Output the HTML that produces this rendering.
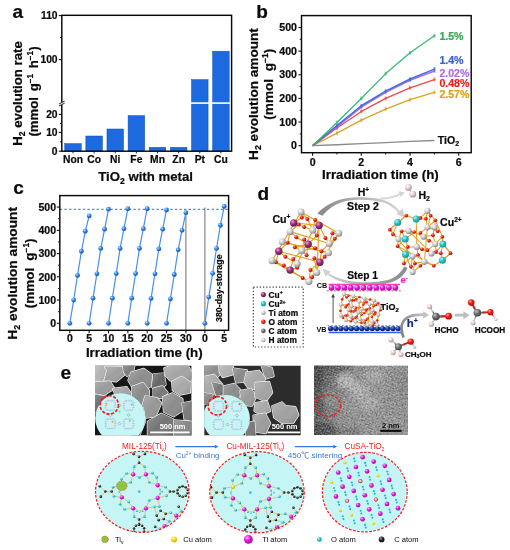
<!DOCTYPE html>
<html lang="en">
<head>
<meta charset="utf-8">
<title>Figure</title>
<style>
html,body{margin:0;padding:0;background:#fff;}
body{width:510px;height:550px;overflow:hidden;}
svg{display:block;font-family:"Liberation Sans", sans-serif;}
</style>
</head>
<body>
<svg width="510" height="550" viewBox="0 0 510 550">
<defs>
<radialGradient id="g_blue" cx="0.36" cy="0.32" r="0.75"><stop offset="0" stop-color="#bfe0ff"/><stop offset="0.45" stop-color="#2f7fe8"/><stop offset="1" stop-color="#0f4fb8"/></radialGradient>
<radialGradient id="g_cup" cx="0.36" cy="0.32" r="0.75"><stop offset="0" stop-color="#e9a6cf"/><stop offset="0.45" stop-color="#9c2f7c"/><stop offset="1" stop-color="#5c1448"/></radialGradient>
<radialGradient id="g_cu2" cx="0.36" cy="0.32" r="0.75"><stop offset="0" stop-color="#b8f6f6"/><stop offset="0.45" stop-color="#26c0c8"/><stop offset="1" stop-color="#0f8f9a"/></radialGradient>
<radialGradient id="g_ti" cx="0.36" cy="0.32" r="0.75"><stop offset="0" stop-color="#ffffff"/><stop offset="0.45" stop-color="#cecece"/><stop offset="1" stop-color="#7c7c7c"/></radialGradient>
<radialGradient id="g_o" cx="0.36" cy="0.32" r="0.75"><stop offset="0" stop-color="#ff9a8a"/><stop offset="0.45" stop-color="#ea1c14"/><stop offset="1" stop-color="#a80c08"/></radialGradient>
<radialGradient id="g_c" cx="0.36" cy="0.32" r="0.75"><stop offset="0" stop-color="#c4c4c4"/><stop offset="0.45" stop-color="#6e6e6e"/><stop offset="1" stop-color="#3a3a3a"/></radialGradient>
<radialGradient id="g_h" cx="0.36" cy="0.32" r="0.75"><stop offset="0" stop-color="#ffffff"/><stop offset="0.45" stop-color="#e6cfcf"/><stop offset="1" stop-color="#a38888"/></radialGradient>
<radialGradient id="g_mag" cx="0.36" cy="0.32" r="0.75"><stop offset="0" stop-color="#ffb0ff"/><stop offset="0.45" stop-color="#e418d8"/><stop offset="1" stop-color="#9a0a96"/></radialGradient>
<radialGradient id="g_navy" cx="0.36" cy="0.32" r="0.75"><stop offset="0" stop-color="#7f95e0"/><stop offset="0.45" stop-color="#16339c"/><stop offset="1" stop-color="#07185c"/></radialGradient>
<radialGradient id="g_yel" cx="0.36" cy="0.32" r="0.75"><stop offset="0" stop-color="#fff9a8"/><stop offset="0.45" stop-color="#f3de1e"/><stop offset="1" stop-color="#c4a80a"/></radialGradient>
<radialGradient id="g_cy" cx="0.36" cy="0.32" r="0.75"><stop offset="0" stop-color="#c8fbff"/><stop offset="0.45" stop-color="#1fc4dc"/><stop offset="1" stop-color="#0c93ac"/></radialGradient>
<radialGradient id="g_blk" cx="0.36" cy="0.32" r="0.75"><stop offset="0" stop-color="#9a9a9a"/><stop offset="0.45" stop-color="#2c2c2c"/><stop offset="1" stop-color="#0a0a0a"/></radialGradient>
<linearGradient id="sw2" x1="0" y1="0" x2="1" y2="0"><stop offset="0" stop-color="#858585"/><stop offset="0.5" stop-color="#b4b4b4"/><stop offset="1" stop-color="#d6d6d6"/></linearGradient>
<linearGradient id="sw1" x1="1" y1="0" x2="0" y2="0"><stop offset="0" stop-color="#8a8a8a"/><stop offset="0.5" stop-color="#a8a8a8"/><stop offset="1" stop-color="#cfcfcf"/></linearGradient>
<linearGradient id="sw3" x1="0" y1="1" x2="1" y2="0"><stop offset="0" stop-color="#7f7f7f"/><stop offset="0.6" stop-color="#9c9c9c"/><stop offset="1" stop-color="#c4c4c4"/></linearGradient>
<filter id="soft" x="-5%" y="-5%" width="110%" height="110%"><feGaussianBlur stdDeviation="0.75"/></filter>
<filter id="soft2" x="-5%" y="-5%" width="110%" height="110%"><feGaussianBlur stdDeviation="2.2"/></filter>
<filter id="grain" x="0" y="0" width="100%" height="100%"><feTurbulence type="fractalNoise" baseFrequency="0.9" numOctaves="2" seed="3" result="n"/><feColorMatrix in="n" type="matrix" values="0 0 0 0 0.5  0 0 0 0 0.5  0 0 0 0 0.5  0.9 0 0 0 -0.32"/></filter>
<linearGradient id="pg" x1="0" y1="0" x2="1" y2="1"><stop offset="0" stop-color="#fff" stop-opacity="0.22"/><stop offset="0.5" stop-color="#fff" stop-opacity="0"/><stop offset="1" stop-color="#000" stop-opacity="0.24"/></linearGradient>
<clipPath id="c1"><rect x="95" y="365.5" width="96.6" height="70"/></clipPath>
<clipPath id="c2"><rect x="204.2" y="365.5" width="96.6" height="70"/></clipPath>
<clipPath id="c3"><rect x="314" y="365.5" width="94" height="69.6"/></clipPath>
<linearGradient id="tg" x1="0" y1="0.1" x2="1" y2="0.3"><stop offset="0" stop-color="#3c3c3c"/><stop offset="0.16" stop-color="#5c5c5c"/><stop offset="0.4" stop-color="#868686"/><stop offset="0.7" stop-color="#8e8e8e"/><stop offset="1" stop-color="#888888"/></linearGradient>
<pattern id="fr" width="2.3" height="2.3" patternUnits="userSpaceOnUse" patternTransform="rotate(24)"><rect width="2.3" height="1.0" fill="#fff" opacity="0.12"/></pattern>
<pattern id="dots" width="2.5" height="2.2" patternUnits="userSpaceOnUse" patternTransform="rotate(28)"><circle cx="1.2" cy="1.0" r="0.6" fill="#fff" opacity="0.22"/></pattern>
<filter id="nzd" x="0" y="0" width="100%" height="100%"><feTurbulence type="fractalNoise" baseFrequency="0.5" numOctaves="2" seed="11"/><feColorMatrix type="matrix" values="0 0 0 0 0  0 0 0 0 0  0 0 0 0 0  2.6 0 0 0 -1.0"/></filter>
<filter id="nzl" x="0" y="0" width="100%" height="100%"><feTurbulence type="fractalNoise" baseFrequency="0.55" numOctaves="2" seed="23"/><feColorMatrix type="matrix" values="0 0 0 0 1  0 0 0 0 1  0 0 0 0 1  0 2.6 0 0 -1.0"/></filter>
<clipPath id="ce142"><ellipse cx="142.3" cy="491.8" rx="46.8" ry="40.5"/></clipPath>
<clipPath id="ce257"><ellipse cx="257" cy="492.2" rx="47.2" ry="40.6"/></clipPath>
</defs>
<rect width="510" height="550" fill="#ffffff"/>
<rect x="64.7" y="143.6" width="16.6" height="7.6" fill="#1c69e0" stroke="#1550b8" stroke-width="0.5"/>
<text x="73" y="162.9" font-size="10.3" font-weight="bold" text-anchor="middle" fill="#0a0a0a" stroke="#0a0a0a" stroke-width="0.22">Non</text>
<rect x="85.83" y="136" width="16.6" height="15.2" fill="#1c69e0" stroke="#1550b8" stroke-width="0.5"/>
<text x="94.13" y="162.9" font-size="10.3" font-weight="bold" text-anchor="middle" fill="#0a0a0a" stroke="#0a0a0a" stroke-width="0.22">Co</text>
<rect x="106.96" y="129" width="16.6" height="22.2" fill="#1c69e0" stroke="#1550b8" stroke-width="0.5"/>
<text x="115.26" y="162.9" font-size="10.3" font-weight="bold" text-anchor="middle" fill="#0a0a0a" stroke="#0a0a0a" stroke-width="0.22">Ni</text>
<rect x="128.09" y="115.6" width="16.6" height="35.6" fill="#1c69e0" stroke="#1550b8" stroke-width="0.5"/>
<text x="136.39" y="162.9" font-size="10.3" font-weight="bold" text-anchor="middle" fill="#0a0a0a" stroke="#0a0a0a" stroke-width="0.22">Fe</text>
<rect x="149.22" y="147.3" width="16.6" height="3.9" fill="#1c69e0" stroke="#1550b8" stroke-width="0.5"/>
<text x="157.52" y="162.9" font-size="10.3" font-weight="bold" text-anchor="middle" fill="#0a0a0a" stroke="#0a0a0a" stroke-width="0.22">Mn</text>
<rect x="170.35" y="147.3" width="16.6" height="3.9" fill="#1c69e0" stroke="#1550b8" stroke-width="0.5"/>
<text x="178.65" y="162.9" font-size="10.3" font-weight="bold" text-anchor="middle" fill="#0a0a0a" stroke="#0a0a0a" stroke-width="0.22">Zn</text>
<rect x="191.48" y="79.6" width="16.6" height="71.6" fill="#1c69e0" stroke="#1550b8" stroke-width="0.5"/>
<text x="199.78" y="162.9" font-size="10.3" font-weight="bold" text-anchor="middle" fill="#0a0a0a" stroke="#0a0a0a" stroke-width="0.22">Pt</text>
<rect x="212.61" y="51.2" width="16.6" height="100" fill="#1c69e0" stroke="#1550b8" stroke-width="0.5"/>
<text x="220.91" y="162.9" font-size="10.3" font-weight="bold" text-anchor="middle" fill="#0a0a0a" stroke="#0a0a0a" stroke-width="0.22">Cu</text>
<rect x="190" y="102.3" width="41" height="1.6" fill="#fff" stroke="none" stroke-width="1"/>
<rect x="61.8" y="15.3" width="169.8" height="135.9" fill="none" stroke="#0a0a0a" stroke-width="1.45"/>
<rect x="59.8" y="102.4" width="4" height="2.6" fill="#fff" stroke="none" stroke-width="1"/>
<line x1="59" y1="104" x2="64.6" y2="101.2" stroke="#111" stroke-width="0.9"/>
<line x1="59" y1="106" x2="64.6" y2="103.2" stroke="#111" stroke-width="0.9"/>
<line x1="58.8" y1="151.2" x2="61.8" y2="151.2" stroke="#111" stroke-width="1.1"/>
<text x="57.6" y="154.8" font-size="10.3" font-weight="bold" text-anchor="end" fill="#0a0a0a" stroke="#0a0a0a" stroke-width="0.22">0</text>
<line x1="58.8" y1="132.4" x2="61.8" y2="132.4" stroke="#111" stroke-width="1.1"/>
<text x="57.6" y="136" font-size="10.3" font-weight="bold" text-anchor="end" fill="#0a0a0a" stroke="#0a0a0a" stroke-width="0.22">10</text>
<line x1="58.8" y1="114.4" x2="61.8" y2="114.4" stroke="#111" stroke-width="1.1"/>
<text x="57.6" y="118" font-size="10.3" font-weight="bold" text-anchor="end" fill="#0a0a0a" stroke="#0a0a0a" stroke-width="0.22">20</text>
<line x1="58.8" y1="59.6" x2="61.8" y2="59.6" stroke="#111" stroke-width="1.1"/>
<text x="57.6" y="63.2" font-size="10.3" font-weight="bold" text-anchor="end" fill="#0a0a0a" stroke="#0a0a0a" stroke-width="0.22">100</text>
<line x1="58.8" y1="15.6" x2="61.8" y2="15.6" stroke="#111" stroke-width="1.1"/>
<text x="57.6" y="19.2" font-size="10.3" font-weight="bold" text-anchor="end" fill="#0a0a0a" stroke="#0a0a0a" stroke-width="0.22">110</text>
<line x1="60" y1="141.8" x2="61.8" y2="141.8" stroke="#111" stroke-width="0.9"/>
<line x1="60" y1="123.4" x2="61.8" y2="123.4" stroke="#111" stroke-width="0.9"/>
<line x1="60" y1="37.6" x2="61.8" y2="37.6" stroke="#111" stroke-width="0.9"/>
<line x1="73" y1="151.2" x2="73" y2="153.4" stroke="#111" stroke-width="0.9"/>
<line x1="94.13" y1="151.2" x2="94.13" y2="153.4" stroke="#111" stroke-width="0.9"/>
<line x1="115.26" y1="151.2" x2="115.26" y2="153.4" stroke="#111" stroke-width="0.9"/>
<line x1="136.39" y1="151.2" x2="136.39" y2="153.4" stroke="#111" stroke-width="0.9"/>
<line x1="157.52" y1="151.2" x2="157.52" y2="153.4" stroke="#111" stroke-width="0.9"/>
<line x1="178.65" y1="151.2" x2="178.65" y2="153.4" stroke="#111" stroke-width="0.9"/>
<line x1="199.78" y1="151.2" x2="199.78" y2="153.4" stroke="#111" stroke-width="0.9"/>
<line x1="220.91" y1="151.2" x2="220.91" y2="153.4" stroke="#111" stroke-width="0.9"/>
<text x="22.3" y="93.5" font-size="13.2" font-weight="bold" text-anchor="middle" fill="#0a0a0a" transform="rotate(-90 22.3 93.5)" stroke="#0a0a0a" stroke-width="0.22">H<tspan dy="0.34em" font-size="65%">2</tspan><tspan dy="-0.22em" font-size="100%">&#8203;</tspan> evolution rate</text>
<text x="38" y="91.5" font-size="13.2" font-weight="bold" text-anchor="middle" fill="#0a0a0a" transform="rotate(-90 38 91.5)" word-spacing="2" stroke="#0a0a0a" stroke-width="0.22">(mmol g<tspan dy="-0.61em" font-size="62%">−1</tspan><tspan dy="0.38em" font-size="100%">&#8203;</tspan> h<tspan dy="-0.61em" font-size="62%">−1</tspan><tspan dy="0.38em" font-size="100%">&#8203;</tspan>)</text>
<text x="145.6" y="180.6" font-size="13.2" font-weight="bold" text-anchor="middle" fill="#0a0a0a" stroke="#0a0a0a" stroke-width="0.22">TiO<tspan dy="0.34em" font-size="65%">2</tspan><tspan dy="-0.22em" font-size="100%">&#8203;</tspan> with metal</text>
<text x="12.6" y="17.8" font-size="19" font-weight="bold" text-anchor="start" fill="#0a0a0a" stroke="#0a0a0a" stroke-width="0.22">a</text>
<polyline fill="none" stroke="#8a8a8a" stroke-width="1.3" stroke-linejoin="round" points="312.6,145.7 336.96,144.75 361.32,143.57 385.68,142.63 410.04,141.44 434.4,140.5"/>
<polyline fill="none" stroke="#d8a420" stroke-width="1.3" stroke-linejoin="round" points="312.6,145.7 336.96,133.17 361.32,120.17 385.68,109.06 410.04,99.6 434.4,92.27"/>
<circle cx="336.96" cy="133.17" r="1.1" fill="#d8a420"/>
<path d="M336.96,131.67 v3 M335.96,131.67 h2 M335.96,134.67 h2" stroke="#d8a420" stroke-width="0.5" fill="none"/>
<circle cx="361.32" cy="120.17" r="1.1" fill="#d8a420"/>
<path d="M361.32,118.67 v3 M360.32,118.67 h2 M360.32,121.67 h2" stroke="#d8a420" stroke-width="0.5" fill="none"/>
<circle cx="385.68" cy="109.06" r="1.1" fill="#d8a420"/>
<path d="M385.68,107.56 v3 M384.68,107.56 h2 M384.68,110.56 h2" stroke="#d8a420" stroke-width="0.5" fill="none"/>
<circle cx="410.04" cy="99.6" r="1.1" fill="#d8a420"/>
<path d="M410.04,98.1 v3 M409.04,98.1 h2 M409.04,101.1 h2" stroke="#d8a420" stroke-width="0.5" fill="none"/>
<circle cx="434.4" cy="92.27" r="1.1" fill="#d8a420"/>
<path d="M434.4,90.77 v3 M433.4,90.77 h2 M433.4,93.77 h2" stroke="#d8a420" stroke-width="0.5" fill="none"/>
<polyline fill="none" stroke="#f04a4a" stroke-width="1.3" stroke-linejoin="round" points="312.6,145.7 336.96,127.97 361.32,111.42 385.68,98.42 410.04,87.78 434.4,79.51"/>
<circle cx="336.96" cy="127.97" r="1.1" fill="#f04a4a"/>
<path d="M336.96,126.47 v3 M335.96,126.47 h2 M335.96,129.47 h2" stroke="#f04a4a" stroke-width="0.5" fill="none"/>
<circle cx="361.32" cy="111.42" r="1.1" fill="#f04a4a"/>
<path d="M361.32,109.92 v3 M360.32,109.92 h2 M360.32,112.92 h2" stroke="#f04a4a" stroke-width="0.5" fill="none"/>
<circle cx="385.68" cy="98.42" r="1.1" fill="#f04a4a"/>
<path d="M385.68,96.92 v3 M384.68,96.92 h2 M384.68,99.92 h2" stroke="#f04a4a" stroke-width="0.5" fill="none"/>
<circle cx="410.04" cy="87.78" r="1.1" fill="#f04a4a"/>
<path d="M410.04,86.28 v3 M409.04,86.28 h2 M409.04,89.28 h2" stroke="#f04a4a" stroke-width="0.5" fill="none"/>
<circle cx="434.4" cy="79.51" r="1.1" fill="#f04a4a"/>
<path d="M434.4,78.01 v3 M433.4,78.01 h2 M433.4,81.01 h2" stroke="#f04a4a" stroke-width="0.5" fill="none"/>
<polyline fill="none" stroke="#b070e0" stroke-width="1.5" stroke-linejoin="round" points="312.6,145.7 336.96,126.79 361.32,107.17 385.68,92.27 410.04,80.22 434.4,71"/>
<circle cx="336.96" cy="126.79" r="1.1" fill="#b070e0"/>
<path d="M336.96,125.29 v3 M335.96,125.29 h2 M335.96,128.29 h2" stroke="#b070e0" stroke-width="0.5" fill="none"/>
<circle cx="361.32" cy="107.17" r="1.1" fill="#b070e0"/>
<path d="M361.32,105.67 v3 M360.32,105.67 h2 M360.32,108.67 h2" stroke="#b070e0" stroke-width="0.5" fill="none"/>
<circle cx="385.68" cy="92.27" r="1.1" fill="#b070e0"/>
<path d="M385.68,90.77 v3 M384.68,90.77 h2 M384.68,93.77 h2" stroke="#b070e0" stroke-width="0.5" fill="none"/>
<circle cx="410.04" cy="80.22" r="1.1" fill="#b070e0"/>
<path d="M410.04,78.72 v3 M409.04,78.72 h2 M409.04,81.72 h2" stroke="#b070e0" stroke-width="0.5" fill="none"/>
<circle cx="434.4" cy="71" r="1.1" fill="#b070e0"/>
<path d="M434.4,69.5 v3 M433.4,69.5 h2 M433.4,72.5 h2" stroke="#b070e0" stroke-width="0.5" fill="none"/>
<polyline fill="none" stroke="#3f6fe0" stroke-width="1.5" stroke-linejoin="round" points="312.6,145.7 336.96,125.61 361.32,105.75 385.68,91.09 410.04,79.04 434.4,69.11"/>
<circle cx="336.96" cy="125.61" r="1.1" fill="#3f6fe0"/>
<path d="M336.96,124.11 v3 M335.96,124.11 h2 M335.96,127.11 h2" stroke="#3f6fe0" stroke-width="0.5" fill="none"/>
<circle cx="361.32" cy="105.75" r="1.1" fill="#3f6fe0"/>
<path d="M361.32,104.25 v3 M360.32,104.25 h2 M360.32,107.25 h2" stroke="#3f6fe0" stroke-width="0.5" fill="none"/>
<circle cx="385.68" cy="91.09" r="1.1" fill="#3f6fe0"/>
<path d="M385.68,89.59 v3 M384.68,89.59 h2 M384.68,92.59 h2" stroke="#3f6fe0" stroke-width="0.5" fill="none"/>
<circle cx="410.04" cy="79.04" r="1.1" fill="#3f6fe0"/>
<path d="M410.04,77.54 v3 M409.04,77.54 h2 M409.04,80.54 h2" stroke="#3f6fe0" stroke-width="0.5" fill="none"/>
<circle cx="434.4" cy="69.11" r="1.1" fill="#3f6fe0"/>
<path d="M434.4,67.61 v3 M433.4,67.61 h2 M433.4,70.61 h2" stroke="#3f6fe0" stroke-width="0.5" fill="none"/>
<polyline fill="none" stroke="#3cb878" stroke-width="1.3" stroke-linejoin="round" points="312.6,145.7 336.96,122.53 361.32,98.42 385.68,73.6 410.04,52.79 434.4,35.77"/>
<circle cx="336.96" cy="122.53" r="1.1" fill="#3cb878"/>
<path d="M336.96,121.03 v3 M335.96,121.03 h2 M335.96,124.03 h2" stroke="#3cb878" stroke-width="0.5" fill="none"/>
<circle cx="361.32" cy="98.42" r="1.1" fill="#3cb878"/>
<path d="M361.32,96.92 v3 M360.32,96.92 h2 M360.32,99.92 h2" stroke="#3cb878" stroke-width="0.5" fill="none"/>
<circle cx="385.68" cy="73.6" r="1.1" fill="#3cb878"/>
<path d="M385.68,72.1 v3 M384.68,72.1 h2 M384.68,75.1 h2" stroke="#3cb878" stroke-width="0.5" fill="none"/>
<circle cx="410.04" cy="52.79" r="1.1" fill="#3cb878"/>
<path d="M410.04,51.29 v3 M409.04,51.29 h2 M409.04,54.29 h2" stroke="#3cb878" stroke-width="0.5" fill="none"/>
<circle cx="434.4" cy="35.77" r="1.1" fill="#3cb878"/>
<path d="M434.4,34.27 v3 M433.4,34.27 h2 M433.4,37.27 h2" stroke="#3cb878" stroke-width="0.5" fill="none"/>
<rect x="301.5" y="15.6" width="169.7" height="137.1" fill="none" stroke="#0a0a0a" stroke-width="1.45"/>
<line x1="298.5" y1="145.7" x2="301.5" y2="145.7" stroke="#111" stroke-width="1.1"/>
<text x="297" y="149.4" font-size="10.6" font-weight="bold" text-anchor="end" fill="#0a0a0a" stroke="#0a0a0a" stroke-width="0.22">0</text>
<line x1="298.5" y1="122.06" x2="301.5" y2="122.06" stroke="#111" stroke-width="1.1"/>
<text x="297" y="125.76" font-size="10.6" font-weight="bold" text-anchor="end" fill="#0a0a0a" stroke="#0a0a0a" stroke-width="0.22">100</text>
<line x1="298.5" y1="98.42" x2="301.5" y2="98.42" stroke="#111" stroke-width="1.1"/>
<text x="297" y="102.12" font-size="10.6" font-weight="bold" text-anchor="end" fill="#0a0a0a" stroke="#0a0a0a" stroke-width="0.22">200</text>
<line x1="298.5" y1="74.78" x2="301.5" y2="74.78" stroke="#111" stroke-width="1.1"/>
<text x="297" y="78.48" font-size="10.6" font-weight="bold" text-anchor="end" fill="#0a0a0a" stroke="#0a0a0a" stroke-width="0.22">300</text>
<line x1="298.5" y1="51.14" x2="301.5" y2="51.14" stroke="#111" stroke-width="1.1"/>
<text x="297" y="54.84" font-size="10.6" font-weight="bold" text-anchor="end" fill="#0a0a0a" stroke="#0a0a0a" stroke-width="0.22">400</text>
<line x1="298.5" y1="27.5" x2="301.5" y2="27.5" stroke="#111" stroke-width="1.1"/>
<text x="297" y="31.2" font-size="10.6" font-weight="bold" text-anchor="end" fill="#0a0a0a" stroke="#0a0a0a" stroke-width="0.22">500</text>
<line x1="299.7" y1="133.88" x2="301.5" y2="133.88" stroke="#111" stroke-width="0.9"/>
<line x1="299.7" y1="110.24" x2="301.5" y2="110.24" stroke="#111" stroke-width="0.9"/>
<line x1="299.7" y1="86.6" x2="301.5" y2="86.6" stroke="#111" stroke-width="0.9"/>
<line x1="299.7" y1="62.96" x2="301.5" y2="62.96" stroke="#111" stroke-width="0.9"/>
<line x1="299.7" y1="39.32" x2="301.5" y2="39.32" stroke="#111" stroke-width="0.9"/>
<line x1="312.6" y1="152.7" x2="312.6" y2="155.7" stroke="#111" stroke-width="1.1"/>
<text x="312.6" y="166.3" font-size="10.6" font-weight="bold" text-anchor="middle" fill="#0a0a0a" stroke="#0a0a0a" stroke-width="0.22">0</text>
<line x1="361.32" y1="152.7" x2="361.32" y2="155.7" stroke="#111" stroke-width="1.1"/>
<text x="361.32" y="166.3" font-size="10.6" font-weight="bold" text-anchor="middle" fill="#0a0a0a" stroke="#0a0a0a" stroke-width="0.22">2</text>
<line x1="410.04" y1="152.7" x2="410.04" y2="155.7" stroke="#111" stroke-width="1.1"/>
<text x="410.04" y="166.3" font-size="10.6" font-weight="bold" text-anchor="middle" fill="#0a0a0a" stroke="#0a0a0a" stroke-width="0.22">4</text>
<line x1="458.76" y1="152.7" x2="458.76" y2="155.7" stroke="#111" stroke-width="1.1"/>
<text x="458.76" y="166.3" font-size="10.6" font-weight="bold" text-anchor="middle" fill="#0a0a0a" stroke="#0a0a0a" stroke-width="0.22">6</text>
<line x1="336.96" y1="152.7" x2="336.96" y2="154.5" stroke="#111" stroke-width="0.9"/>
<line x1="385.68" y1="152.7" x2="385.68" y2="154.5" stroke="#111" stroke-width="0.9"/>
<line x1="434.4" y1="152.7" x2="434.4" y2="154.5" stroke="#111" stroke-width="0.9"/>
<text x="439.4" y="39.8" font-size="10.6" font-weight="bold" text-anchor="start" fill="#35a853" stroke="#35a853" stroke-width="0.22">1.5%</text>
<text x="439.4" y="64.3" font-size="10.6" font-weight="bold" text-anchor="start" fill="#3a62d0" stroke="#3a62d0" stroke-width="0.22">1.4%</text>
<text x="439.4" y="76.8" font-size="10.6" font-weight="bold" text-anchor="start" fill="#b26ee0" stroke="#b26ee0" stroke-width="0.22">2.02%</text>
<text x="439.4" y="86.9" font-size="10.6" font-weight="bold" text-anchor="start" fill="#ee2222" stroke="#ee2222" stroke-width="0.22">0.48%</text>
<text x="439.4" y="98.4" font-size="10.6" font-weight="bold" text-anchor="start" fill="#dba21c" stroke="#dba21c" stroke-width="0.22">2.57%</text>
<text x="437.8" y="143.8" font-size="10.6" font-weight="bold" text-anchor="start" fill="#0a0a0a" stroke="#0a0a0a" stroke-width="0.22">TiO<tspan dy="0.34em" font-size="65%">2</tspan><tspan dy="-0.22em" font-size="100%">&#8203;</tspan></text>
<text x="257.8" y="94" font-size="13.6" font-weight="bold" text-anchor="middle" fill="#0a0a0a" transform="rotate(-90 257.8 94)" stroke="#0a0a0a" stroke-width="0.22">H<tspan dy="0.34em" font-size="65%">2</tspan><tspan dy="-0.22em" font-size="100%">&#8203;</tspan> evolution amount</text>
<text x="273.2" y="84.2" font-size="13.6" font-weight="bold" text-anchor="middle" fill="#0a0a0a" transform="rotate(-90 273.2 84.2)" word-spacing="4" stroke="#0a0a0a" stroke-width="0.22">(mmol g<tspan dy="-0.61em" font-size="62%">−1</tspan><tspan dy="0.38em" font-size="100%">&#8203;</tspan>)</text>
<text x="380.4" y="179.3" font-size="13.3" font-weight="bold" text-anchor="middle" fill="#0a0a0a" stroke="#0a0a0a" stroke-width="0.22">Irradiation time (h)</text>
<text x="256.3" y="17.8" font-size="19" font-weight="bold" text-anchor="start" fill="#0a0a0a" stroke="#0a0a0a" stroke-width="0.22">b</text>
<line x1="59.8" y1="209.42" x2="228.6" y2="209.42" stroke="#4a90e8" stroke-width="1.1" stroke-dasharray="2.4 2.2"/>
<line x1="185.9" y1="212" x2="185.9" y2="330.3" stroke="#555" stroke-width="0.85"/>
<line x1="204.9" y1="207.5" x2="204.9" y2="330.3" stroke="#555" stroke-width="0.85"/>
<polyline fill="none" stroke="#4a90e8" stroke-width="1.2" points="69.8,323.3 73.67,300.06 77.54,275.43 81.41,251.26 85.28,231.27 89.15,215.93"/>
<polyline fill="none" stroke="#4a90e8" stroke-width="1.2" points="89.15,323.3 93.02,298.2 96.89,273.8 100.76,248.47 104.63,229.18 108.5,209.19"/>
<polyline fill="none" stroke="#4a90e8" stroke-width="1.2" points="108.5,323.3 112.37,298.2 116.24,273.57 120.11,248.47 123.98,228.71 127.85,208.73"/>
<polyline fill="none" stroke="#4a90e8" stroke-width="1.2" points="127.85,323.3 131.72,298.2 135.59,273.57 139.46,248.47 143.33,228.71 147.2,208.73"/>
<polyline fill="none" stroke="#4a90e8" stroke-width="1.2" points="147.2,323.3 151.07,298.43 154.94,273.8 158.81,248.93 162.68,229.18 166.55,209.89"/>
<polyline fill="none" stroke="#4a90e8" stroke-width="1.2" points="166.55,323.3 170.42,298.9 174.29,274.5 178.16,249.86 182.03,230.34 185.9,212.68"/>
<polyline fill="none" stroke="#4a90e8" stroke-width="1.2" points="204.9,323.3 208.77,297.04 212.64,273.33 216.51,248.47 220.38,225.23 224.25,206.4"/>
<circle cx="69.8" cy="323.3" r="2.4" fill="url(#g_blue)"/>
<circle cx="73.67" cy="300.06" r="2.4" fill="url(#g_blue)"/>
<circle cx="77.54" cy="275.43" r="2.4" fill="url(#g_blue)"/>
<circle cx="81.41" cy="251.26" r="2.4" fill="url(#g_blue)"/>
<circle cx="85.28" cy="231.27" r="2.4" fill="url(#g_blue)"/>
<circle cx="89.15" cy="215.93" r="2.4" fill="url(#g_blue)"/>
<circle cx="89.15" cy="323.3" r="2.4" fill="url(#g_blue)"/>
<circle cx="93.02" cy="298.2" r="2.4" fill="url(#g_blue)"/>
<circle cx="96.89" cy="273.8" r="2.4" fill="url(#g_blue)"/>
<circle cx="100.76" cy="248.47" r="2.4" fill="url(#g_blue)"/>
<circle cx="104.63" cy="229.18" r="2.4" fill="url(#g_blue)"/>
<circle cx="108.5" cy="209.19" r="2.4" fill="url(#g_blue)"/>
<circle cx="108.5" cy="323.3" r="2.4" fill="url(#g_blue)"/>
<circle cx="112.37" cy="298.2" r="2.4" fill="url(#g_blue)"/>
<circle cx="116.24" cy="273.57" r="2.4" fill="url(#g_blue)"/>
<circle cx="120.11" cy="248.47" r="2.4" fill="url(#g_blue)"/>
<circle cx="123.98" cy="228.71" r="2.4" fill="url(#g_blue)"/>
<circle cx="127.85" cy="208.73" r="2.4" fill="url(#g_blue)"/>
<circle cx="127.85" cy="323.3" r="2.4" fill="url(#g_blue)"/>
<circle cx="131.72" cy="298.2" r="2.4" fill="url(#g_blue)"/>
<circle cx="135.59" cy="273.57" r="2.4" fill="url(#g_blue)"/>
<circle cx="139.46" cy="248.47" r="2.4" fill="url(#g_blue)"/>
<circle cx="143.33" cy="228.71" r="2.4" fill="url(#g_blue)"/>
<circle cx="147.2" cy="208.73" r="2.4" fill="url(#g_blue)"/>
<circle cx="147.2" cy="323.3" r="2.4" fill="url(#g_blue)"/>
<circle cx="151.07" cy="298.43" r="2.4" fill="url(#g_blue)"/>
<circle cx="154.94" cy="273.8" r="2.4" fill="url(#g_blue)"/>
<circle cx="158.81" cy="248.93" r="2.4" fill="url(#g_blue)"/>
<circle cx="162.68" cy="229.18" r="2.4" fill="url(#g_blue)"/>
<circle cx="166.55" cy="209.89" r="2.4" fill="url(#g_blue)"/>
<circle cx="166.55" cy="323.3" r="2.4" fill="url(#g_blue)"/>
<circle cx="170.42" cy="298.9" r="2.4" fill="url(#g_blue)"/>
<circle cx="174.29" cy="274.5" r="2.4" fill="url(#g_blue)"/>
<circle cx="178.16" cy="249.86" r="2.4" fill="url(#g_blue)"/>
<circle cx="182.03" cy="230.34" r="2.4" fill="url(#g_blue)"/>
<circle cx="185.9" cy="212.68" r="2.4" fill="url(#g_blue)"/>
<circle cx="204.9" cy="323.3" r="2.4" fill="url(#g_blue)"/>
<circle cx="208.77" cy="297.04" r="2.4" fill="url(#g_blue)"/>
<circle cx="212.64" cy="273.33" r="2.4" fill="url(#g_blue)"/>
<circle cx="216.51" cy="248.47" r="2.4" fill="url(#g_blue)"/>
<circle cx="220.38" cy="225.23" r="2.4" fill="url(#g_blue)"/>
<circle cx="224.25" cy="206.4" r="2.4" fill="url(#g_blue)"/>
<rect x="59.8" y="195.6" width="168.8" height="134.7" fill="none" stroke="#0a0a0a" stroke-width="1.45"/>
<line x1="56.8" y1="323.3" x2="59.8" y2="323.3" stroke="#111" stroke-width="1.1"/>
<text x="56" y="327.1" font-size="10.5" font-weight="bold" text-anchor="end" fill="#0a0a0a" stroke="#0a0a0a" stroke-width="0.22">0</text>
<line x1="56.8" y1="300.06" x2="59.8" y2="300.06" stroke="#111" stroke-width="1.1"/>
<text x="56" y="303.86" font-size="10.5" font-weight="bold" text-anchor="end" fill="#0a0a0a" stroke="#0a0a0a" stroke-width="0.22">100</text>
<line x1="56.8" y1="276.82" x2="59.8" y2="276.82" stroke="#111" stroke-width="1.1"/>
<text x="56" y="280.62" font-size="10.5" font-weight="bold" text-anchor="end" fill="#0a0a0a" stroke="#0a0a0a" stroke-width="0.22">200</text>
<line x1="56.8" y1="253.58" x2="59.8" y2="253.58" stroke="#111" stroke-width="1.1"/>
<text x="56" y="257.38" font-size="10.5" font-weight="bold" text-anchor="end" fill="#0a0a0a" stroke="#0a0a0a" stroke-width="0.22">300</text>
<line x1="56.8" y1="230.34" x2="59.8" y2="230.34" stroke="#111" stroke-width="1.1"/>
<text x="56" y="234.14" font-size="10.5" font-weight="bold" text-anchor="end" fill="#0a0a0a" stroke="#0a0a0a" stroke-width="0.22">400</text>
<line x1="56.8" y1="207.1" x2="59.8" y2="207.1" stroke="#111" stroke-width="1.1"/>
<text x="56" y="210.9" font-size="10.5" font-weight="bold" text-anchor="end" fill="#0a0a0a" stroke="#0a0a0a" stroke-width="0.22">500</text>
<line x1="58" y1="311.68" x2="59.8" y2="311.68" stroke="#111" stroke-width="0.9"/>
<line x1="58" y1="288.44" x2="59.8" y2="288.44" stroke="#111" stroke-width="0.9"/>
<line x1="58" y1="265.2" x2="59.8" y2="265.2" stroke="#111" stroke-width="0.9"/>
<line x1="58" y1="241.96" x2="59.8" y2="241.96" stroke="#111" stroke-width="0.9"/>
<line x1="58" y1="218.72" x2="59.8" y2="218.72" stroke="#111" stroke-width="0.9"/>
<line x1="69.8" y1="330.3" x2="69.8" y2="333.3" stroke="#111" stroke-width="1.1"/>
<text x="69.8" y="342.2" font-size="10.5" font-weight="bold" text-anchor="middle" fill="#0a0a0a" stroke="#0a0a0a" stroke-width="0.22">0</text>
<line x1="89.15" y1="330.3" x2="89.15" y2="333.3" stroke="#111" stroke-width="1.1"/>
<text x="89.15" y="342.2" font-size="10.5" font-weight="bold" text-anchor="middle" fill="#0a0a0a" stroke="#0a0a0a" stroke-width="0.22">5</text>
<line x1="108.5" y1="330.3" x2="108.5" y2="333.3" stroke="#111" stroke-width="1.1"/>
<text x="108.5" y="342.2" font-size="10.5" font-weight="bold" text-anchor="middle" fill="#0a0a0a" stroke="#0a0a0a" stroke-width="0.22">10</text>
<line x1="127.85" y1="330.3" x2="127.85" y2="333.3" stroke="#111" stroke-width="1.1"/>
<text x="127.85" y="342.2" font-size="10.5" font-weight="bold" text-anchor="middle" fill="#0a0a0a" stroke="#0a0a0a" stroke-width="0.22">15</text>
<line x1="147.2" y1="330.3" x2="147.2" y2="333.3" stroke="#111" stroke-width="1.1"/>
<text x="147.2" y="342.2" font-size="10.5" font-weight="bold" text-anchor="middle" fill="#0a0a0a" stroke="#0a0a0a" stroke-width="0.22">20</text>
<line x1="166.55" y1="330.3" x2="166.55" y2="333.3" stroke="#111" stroke-width="1.1"/>
<text x="166.55" y="342.2" font-size="10.5" font-weight="bold" text-anchor="middle" fill="#0a0a0a" stroke="#0a0a0a" stroke-width="0.22">25</text>
<line x1="185.9" y1="330.3" x2="185.9" y2="333.3" stroke="#111" stroke-width="1.1"/>
<text x="185.9" y="342.2" font-size="10.5" font-weight="bold" text-anchor="middle" fill="#0a0a0a" stroke="#0a0a0a" stroke-width="0.22">30</text>
<line x1="204.9" y1="330.3" x2="204.9" y2="333.3" stroke="#111" stroke-width="1.1"/>
<text x="204.9" y="342.2" font-size="10.5" font-weight="bold" text-anchor="middle" fill="#0a0a0a" stroke="#0a0a0a" stroke-width="0.22">0</text>
<line x1="224.25" y1="330.3" x2="224.25" y2="333.3" stroke="#111" stroke-width="1.1"/>
<text x="224.25" y="342.2" font-size="10.5" font-weight="bold" text-anchor="middle" fill="#0a0a0a" stroke="#0a0a0a" stroke-width="0.22">5</text>
<text x="222.2" y="288.2" font-size="8.8" font-weight="bold" text-anchor="middle" fill="#0a0a0a" transform="rotate(-90 222.2 288.2)" stroke="#0a0a0a" stroke-width="0.22">380-day-storage</text>
<text x="17.4" y="273.4" font-size="13.7" font-weight="bold" text-anchor="middle" fill="#0a0a0a" transform="rotate(-90 17.4 273.4)" stroke="#0a0a0a" stroke-width="0.22">H<tspan dy="0.34em" font-size="65%">2</tspan><tspan dy="-0.22em" font-size="100%">&#8203;</tspan> evolution amount</text>
<text x="34" y="273.3" font-size="13.5" font-weight="bold" text-anchor="middle" fill="#0a0a0a" transform="rotate(-90 34 273.3)" word-spacing="3.2" stroke="#0a0a0a" stroke-width="0.22">(mmol g<tspan dy="-0.61em" font-size="62%">−1</tspan><tspan dy="0.38em" font-size="100%">&#8203;</tspan>)</text>
<text x="144.3" y="357" font-size="13.3" font-weight="bold" text-anchor="middle" fill="#0a0a0a" stroke="#0a0a0a" stroke-width="0.22">Irradiation time (h)</text>
<text x="13.2" y="194.4" font-size="19" font-weight="bold" text-anchor="start" fill="#0a0a0a" stroke="#0a0a0a" stroke-width="0.22">c</text>
<path d="M317.4,213.4 C324,206.6 333,201 345,198.6 C357,196.6 372,196.8 384,200.2 C391.6,202.6 397.4,207.4 401.4,212.8 L399.6,214.2 C395.4,209.2 390,205.0 383.4,202.6 C372,199.2 358,198.9 346.2,201.0 C336.0,203.4 328.6,208.6 322.4,215.8 Z" fill="url(#sw2)"/>
<path d="M396.6,214.0 L404.4,217.4 L402.8,208.8 Z" fill="#cdcdcd"/>
<path d="M380,199.6 C388,200.0 395,198.0 400.4,195.0 L399.6,193.2 C394.6,195.8 388,197.6 380,197.4 Z" fill="#d9d9d9"/>
<path d="M398.6,191.2 L404.6,192.2 L400.8,197.2 Z" fill="#d4d4d4"/>
<path d="M407.6,268.0 C404.4,274.8 399.6,279.6 391.6,282.2 C382,284.8 372,285.2 362,285.0 C349,284.6 336.6,281.6 327.6,274.6 L328.8,273.2 C337.6,279.0 349.6,281.8 362,282.2 C372,282.4 381,281.8 389.6,279.4 C396.6,277.0 401.0,272.6 404.2,266.6 Z" fill="url(#sw1)"/>
<path d="M322.6,268.4 L330.8,271.4 L325.6,276.8 Z" fill="#d2d2d2"/>
<line x1="301.08" y1="212.06" x2="338.73" y2="233.24" stroke="#e4a11c" stroke-width="1.15" stroke-linecap="round"/>
<line x1="301.08" y1="212.06" x2="272.06" y2="260.69" stroke="#e4a11c" stroke-width="1.15" stroke-linecap="round"/>
<line x1="272.06" y1="260.69" x2="308.92" y2="281.55" stroke="#e4a11c" stroke-width="1.15" stroke-linecap="round"/>
<line x1="338.73" y1="233.24" x2="308.92" y2="281.55" stroke="#e4a11c" stroke-width="1.15" stroke-linecap="round"/>
<line x1="290.1" y1="231.67" x2="329.31" y2="243.43" stroke="#e4a11c" stroke-width="1.15" stroke-linecap="round"/>
<line x1="282.25" y1="241.86" x2="328.53" y2="252.84" stroke="#e4a11c" stroke-width="1.15" stroke-linecap="round"/>
<line x1="293.71" y1="223.04" x2="319.12" y2="225.39" stroke="#e4a11c" stroke-width="1.15" stroke-linecap="round"/>
<line x1="278.8" y1="251.27" x2="319.9" y2="262.25" stroke="#e4a11c" stroke-width="1.15" stroke-linecap="round"/>
<line x1="312.84" y1="230.1" x2="297.16" y2="263.82" stroke="#e4a11c" stroke-width="1.15" stroke-linecap="round"/>
<line x1="319.12" y1="225.39" x2="316.76" y2="272.45" stroke="#e4a11c" stroke-width="1.15" stroke-linecap="round"/>
<line x1="307.35" y1="219.12" x2="301.08" y2="212.06" stroke="#e4a11c" stroke-width="1.15" stroke-linecap="round"/>
<line x1="307.35" y1="219.12" x2="312.84" y2="230.1" stroke="#e4a11c" stroke-width="1.15" stroke-linecap="round"/>
<line x1="315.2" y1="219.9" x2="319.12" y2="225.39" stroke="#e4a11c" stroke-width="1.15" stroke-linecap="round"/>
<line x1="315.2" y1="219.9" x2="312.84" y2="230.1" stroke="#e4a11c" stroke-width="1.15" stroke-linecap="round"/>
<line x1="298.73" y1="224.61" x2="293.71" y2="223.04" stroke="#e4a11c" stroke-width="1.15" stroke-linecap="round"/>
<line x1="298.73" y1="224.61" x2="290.1" y2="231.67" stroke="#e4a11c" stroke-width="1.15" stroke-linecap="round"/>
<line x1="304.22" y1="226.96" x2="312.84" y2="230.1" stroke="#e4a11c" stroke-width="1.15" stroke-linecap="round"/>
<line x1="304.22" y1="226.96" x2="293.71" y2="223.04" stroke="#e4a11c" stroke-width="1.15" stroke-linecap="round"/>
<line x1="332.45" y1="233.24" x2="338.73" y2="233.24" stroke="#e4a11c" stroke-width="1.15" stroke-linecap="round"/>
<line x1="332.45" y1="233.24" x2="329.31" y2="243.43" stroke="#e4a11c" stroke-width="1.15" stroke-linecap="round"/>
<line x1="325.39" y1="237.94" x2="329.31" y2="243.43" stroke="#e4a11c" stroke-width="1.15" stroke-linecap="round"/>
<line x1="325.39" y1="237.94" x2="319.12" y2="225.39" stroke="#e4a11c" stroke-width="1.15" stroke-linecap="round"/>
<line x1="316.76" y1="235.59" x2="312.84" y2="230.1" stroke="#e4a11c" stroke-width="1.15" stroke-linecap="round"/>
<line x1="316.76" y1="235.59" x2="319.12" y2="225.39" stroke="#e4a11c" stroke-width="1.15" stroke-linecap="round"/>
<line x1="316.76" y1="235.59" x2="308.14" y2="244.22" stroke="#e4a11c" stroke-width="1.15" stroke-linecap="round"/>
<line x1="296.37" y1="237.16" x2="290.1" y2="231.67" stroke="#e4a11c" stroke-width="1.15" stroke-linecap="round"/>
<line x1="296.37" y1="237.16" x2="308.14" y2="244.22" stroke="#e4a11c" stroke-width="1.15" stroke-linecap="round"/>
<line x1="304.22" y1="239.51" x2="308.14" y2="244.22" stroke="#e4a11c" stroke-width="1.15" stroke-linecap="round"/>
<line x1="304.22" y1="239.51" x2="301.86" y2="250.49" stroke="#e4a11c" stroke-width="1.15" stroke-linecap="round"/>
<line x1="287.75" y1="242.65" x2="282.25" y2="241.86" stroke="#e4a11c" stroke-width="1.15" stroke-linecap="round"/>
<line x1="287.75" y1="242.65" x2="290.1" y2="231.67" stroke="#e4a11c" stroke-width="1.15" stroke-linecap="round"/>
<line x1="287.75" y1="242.65" x2="278.8" y2="251.27" stroke="#e4a11c" stroke-width="1.15" stroke-linecap="round"/>
<line x1="294.8" y1="247.35" x2="301.86" y2="250.49" stroke="#e4a11c" stroke-width="1.15" stroke-linecap="round"/>
<line x1="294.8" y1="247.35" x2="308.14" y2="244.22" stroke="#e4a11c" stroke-width="1.15" stroke-linecap="round"/>
<line x1="315.2" y1="248.14" x2="308.14" y2="244.22" stroke="#e4a11c" stroke-width="1.15" stroke-linecap="round"/>
<line x1="315.2" y1="248.14" x2="301.86" y2="250.49" stroke="#e4a11c" stroke-width="1.15" stroke-linecap="round"/>
<line x1="321.47" y1="251.27" x2="328.53" y2="252.84" stroke="#e4a11c" stroke-width="1.15" stroke-linecap="round"/>
<line x1="321.47" y1="251.27" x2="329.31" y2="243.43" stroke="#e4a11c" stroke-width="1.15" stroke-linecap="round"/>
<line x1="321.47" y1="251.27" x2="319.9" y2="262.25" stroke="#e4a11c" stroke-width="1.15" stroke-linecap="round"/>
<line x1="285.39" y1="256.76" x2="278.8" y2="251.27" stroke="#e4a11c" stroke-width="1.15" stroke-linecap="round"/>
<line x1="285.39" y1="256.76" x2="297.16" y2="263.82" stroke="#e4a11c" stroke-width="1.15" stroke-linecap="round"/>
<line x1="293.24" y1="259.12" x2="297.16" y2="263.82" stroke="#e4a11c" stroke-width="1.15" stroke-linecap="round"/>
<line x1="293.24" y1="259.12" x2="290.1" y2="270.1" stroke="#e4a11c" stroke-width="1.15" stroke-linecap="round"/>
<line x1="293.24" y1="259.12" x2="301.86" y2="250.49" stroke="#e4a11c" stroke-width="1.15" stroke-linecap="round"/>
<line x1="306.57" y1="255.2" x2="301.86" y2="250.49" stroke="#e4a11c" stroke-width="1.15" stroke-linecap="round"/>
<line x1="306.57" y1="255.2" x2="308.14" y2="244.22" stroke="#e4a11c" stroke-width="1.15" stroke-linecap="round"/>
<line x1="314.41" y1="258.33" x2="319.9" y2="262.25" stroke="#e4a11c" stroke-width="1.15" stroke-linecap="round"/>
<line x1="314.41" y1="258.33" x2="316.76" y2="272.45" stroke="#e4a11c" stroke-width="1.15" stroke-linecap="round"/>
<line x1="275.98" y1="262.25" x2="272.06" y2="260.69" stroke="#e4a11c" stroke-width="1.15" stroke-linecap="round"/>
<line x1="275.98" y1="262.25" x2="278.8" y2="251.27" stroke="#e4a11c" stroke-width="1.15" stroke-linecap="round"/>
<line x1="302.65" y1="277.94" x2="308.92" y2="281.55" stroke="#e4a11c" stroke-width="1.15" stroke-linecap="round"/>
<line x1="302.65" y1="277.94" x2="290.1" y2="270.1" stroke="#e4a11c" stroke-width="1.15" stroke-linecap="round"/>
<line x1="310.49" y1="270.1" x2="316.76" y2="272.45" stroke="#e4a11c" stroke-width="1.15" stroke-linecap="round"/>
<line x1="310.49" y1="270.1" x2="308.92" y2="281.55" stroke="#e4a11c" stroke-width="1.15" stroke-linecap="round"/>
<line x1="310.49" y1="270.1" x2="319.9" y2="262.25" stroke="#e4a11c" stroke-width="1.15" stroke-linecap="round"/>
<line x1="297.16" y1="267.75" x2="297.16" y2="263.82" stroke="#e4a11c" stroke-width="1.15" stroke-linecap="round"/>
<line x1="297.16" y1="267.75" x2="290.1" y2="270.1" stroke="#e4a11c" stroke-width="1.15" stroke-linecap="round"/>
<line x1="283.82" y1="265.39" x2="290.1" y2="270.1" stroke="#e4a11c" stroke-width="1.15" stroke-linecap="round"/>
<line x1="283.82" y1="265.39" x2="272.06" y2="260.69" stroke="#e4a11c" stroke-width="1.15" stroke-linecap="round"/>
<line x1="324.61" y1="256.76" x2="328.53" y2="252.84" stroke="#e4a11c" stroke-width="1.15" stroke-linecap="round"/>
<line x1="324.61" y1="256.76" x2="319.9" y2="262.25" stroke="#e4a11c" stroke-width="1.15" stroke-linecap="round"/>
<line x1="312.06" y1="277.16" x2="308.92" y2="281.55" stroke="#e4a11c" stroke-width="1.15" stroke-linecap="round"/>
<line x1="312.06" y1="277.16" x2="316.76" y2="272.45" stroke="#e4a11c" stroke-width="1.15" stroke-linecap="round"/>
<line x1="334.8" y1="238.73" x2="338.73" y2="233.24" stroke="#e4a11c" stroke-width="1.15" stroke-linecap="round"/>
<line x1="334.8" y1="238.73" x2="329.31" y2="243.43" stroke="#e4a11c" stroke-width="1.15" stroke-linecap="round"/>
<line x1="301.86" y1="217.55" x2="301.08" y2="212.06" stroke="#e4a11c" stroke-width="1.15" stroke-linecap="round"/>
<line x1="301.86" y1="217.55" x2="293.71" y2="223.04" stroke="#e4a11c" stroke-width="1.15" stroke-linecap="round"/>
<circle cx="307.35" cy="219.12" r="2" fill="url(#g_o)"/>
<circle cx="315.2" cy="219.9" r="2" fill="url(#g_o)"/>
<circle cx="298.73" cy="224.61" r="2" fill="url(#g_o)"/>
<circle cx="304.22" cy="226.96" r="2" fill="url(#g_o)"/>
<circle cx="332.45" cy="233.24" r="2" fill="url(#g_o)"/>
<circle cx="325.39" cy="237.94" r="2" fill="url(#g_o)"/>
<circle cx="316.76" cy="235.59" r="2" fill="url(#g_o)"/>
<circle cx="296.37" cy="237.16" r="2" fill="url(#g_o)"/>
<circle cx="304.22" cy="239.51" r="2" fill="url(#g_o)"/>
<circle cx="287.75" cy="242.65" r="2" fill="url(#g_o)"/>
<circle cx="294.8" cy="247.35" r="2" fill="url(#g_o)"/>
<circle cx="315.2" cy="248.14" r="2" fill="url(#g_o)"/>
<circle cx="321.47" cy="251.27" r="2" fill="url(#g_o)"/>
<circle cx="285.39" cy="256.76" r="2" fill="url(#g_o)"/>
<circle cx="293.24" cy="259.12" r="2" fill="url(#g_o)"/>
<circle cx="306.57" cy="255.2" r="2" fill="url(#g_o)"/>
<circle cx="314.41" cy="258.33" r="2" fill="url(#g_o)"/>
<circle cx="275.98" cy="262.25" r="2" fill="url(#g_o)"/>
<circle cx="302.65" cy="277.94" r="2" fill="url(#g_o)"/>
<circle cx="310.49" cy="270.1" r="2" fill="url(#g_o)"/>
<circle cx="297.16" cy="267.75" r="2" fill="url(#g_o)"/>
<circle cx="283.82" cy="265.39" r="2" fill="url(#g_o)"/>
<circle cx="324.61" cy="256.76" r="2" fill="url(#g_o)"/>
<circle cx="312.06" cy="277.16" r="2" fill="url(#g_o)"/>
<circle cx="334.8" cy="238.73" r="2" fill="url(#g_o)"/>
<circle cx="301.86" cy="217.55" r="2" fill="url(#g_o)"/>
<circle cx="301.08" cy="212.06" r="3.5" fill="url(#g_ti)"/>
<circle cx="293.71" cy="223.04" r="3.7" fill="url(#g_cup)"/>
<circle cx="319.12" cy="225.39" r="3.7" fill="url(#g_cup)"/>
<circle cx="312.84" cy="230.1" r="3.5" fill="url(#g_ti)"/>
<circle cx="290.1" cy="231.67" r="3.5" fill="url(#g_ti)"/>
<circle cx="338.73" cy="233.24" r="3.5" fill="url(#g_ti)"/>
<circle cx="282.25" cy="241.86" r="3.5" fill="url(#g_ti)"/>
<circle cx="329.31" cy="243.43" r="3.5" fill="url(#g_ti)"/>
<circle cx="308.14" cy="244.22" r="3.7" fill="url(#g_cup)"/>
<circle cx="301.86" cy="250.49" r="3.5" fill="url(#g_ti)"/>
<circle cx="278.8" cy="251.27" r="3.7" fill="url(#g_cup)"/>
<circle cx="328.53" cy="252.84" r="3.5" fill="url(#g_ti)"/>
<circle cx="272.06" cy="260.69" r="3.5" fill="url(#g_ti)"/>
<circle cx="319.9" cy="262.25" r="3.7" fill="url(#g_cup)"/>
<circle cx="297.16" cy="263.82" r="3.5" fill="url(#g_ti)"/>
<circle cx="290.1" cy="270.1" r="3.7" fill="url(#g_cup)"/>
<circle cx="316.76" cy="272.45" r="3.5" fill="url(#g_ti)"/>
<circle cx="308.92" cy="281.55" r="3.5" fill="url(#g_ti)"/>
<line x1="397.69" y1="222.61" x2="406.31" y2="215.55" stroke="#e4a11c" stroke-width="1.05" stroke-linecap="round"/>
<line x1="397.69" y1="222.61" x2="389.84" y2="229.67" stroke="#e4a11c" stroke-width="1.05" stroke-linecap="round"/>
<line x1="427.49" y1="210.84" x2="435.33" y2="220.25" stroke="#e4a11c" stroke-width="1.05" stroke-linecap="round"/>
<line x1="450.55" y1="253.2" x2="442.39" y2="260.25" stroke="#e4a11c" stroke-width="1.05" stroke-linecap="round"/>
<line x1="450.55" y1="253.2" x2="442.86" y2="244.1" stroke="#e4a11c" stroke-width="1.05" stroke-linecap="round"/>
<line x1="416.2" y1="219" x2="416.82" y2="246.92" stroke="#e4a11c" stroke-width="1.05" stroke-linecap="round"/>
<line x1="427.49" y1="227.31" x2="424.35" y2="261.82" stroke="#e4a11c" stroke-width="1.05" stroke-linecap="round"/>
<line x1="389.84" y1="229.67" x2="412.59" y2="256.33" stroke="#e4a11c" stroke-width="1.05" stroke-linecap="round"/>
<line x1="405.53" y1="254.45" x2="412.59" y2="272.02" stroke="#e4a11c" stroke-width="1.05" stroke-linecap="round"/>
<line x1="442.39" y1="236.73" x2="435.33" y2="220.25" stroke="#e4a11c" stroke-width="1.05" stroke-linecap="round"/>
<line x1="408.67" y1="230.92" x2="431.41" y2="253.51" stroke="#e4a11c" stroke-width="1.05" stroke-linecap="round"/>
<line x1="397.69" y1="246.14" x2="433.76" y2="265.75" stroke="#e4a11c" stroke-width="1.05" stroke-linecap="round"/>
<line x1="406.31" y1="215.55" x2="416.2" y2="219" stroke="#e4a11c" stroke-width="1.05" stroke-linecap="round"/>
<line x1="406.31" y1="215.55" x2="397.69" y2="222.61" stroke="#e4a11c" stroke-width="1.05" stroke-linecap="round"/>
<line x1="420.43" y1="217.9" x2="416.2" y2="219" stroke="#e4a11c" stroke-width="1.05" stroke-linecap="round"/>
<line x1="420.43" y1="217.9" x2="427.49" y2="210.84" stroke="#e4a11c" stroke-width="1.05" stroke-linecap="round"/>
<line x1="425.92" y1="218.69" x2="427.49" y2="210.84" stroke="#e4a11c" stroke-width="1.05" stroke-linecap="round"/>
<line x1="425.92" y1="218.69" x2="427.49" y2="227.31" stroke="#e4a11c" stroke-width="1.05" stroke-linecap="round"/>
<line x1="425.92" y1="218.69" x2="416.2" y2="219" stroke="#e4a11c" stroke-width="1.05" stroke-linecap="round"/>
<line x1="435.33" y1="220.25" x2="434.55" y2="227.31" stroke="#e4a11c" stroke-width="1.05" stroke-linecap="round"/>
<line x1="435.33" y1="220.25" x2="427.49" y2="227.31" stroke="#e4a11c" stroke-width="1.05" stroke-linecap="round"/>
<line x1="389.84" y1="229.67" x2="397.69" y2="222.61" stroke="#e4a11c" stroke-width="1.05" stroke-linecap="round"/>
<line x1="389.84" y1="229.67" x2="398.47" y2="239.08" stroke="#e4a11c" stroke-width="1.05" stroke-linecap="round"/>
<line x1="401.61" y1="231.24" x2="408.67" y2="230.92" stroke="#e4a11c" stroke-width="1.05" stroke-linecap="round"/>
<line x1="401.61" y1="231.24" x2="398.47" y2="239.08" stroke="#e4a11c" stroke-width="1.05" stroke-linecap="round"/>
<line x1="401.61" y1="231.24" x2="405.22" y2="239.08" stroke="#e4a11c" stroke-width="1.05" stroke-linecap="round"/>
<line x1="414.16" y1="232.02" x2="408.67" y2="230.92" stroke="#e4a11c" stroke-width="1.05" stroke-linecap="round"/>
<line x1="414.16" y1="232.02" x2="423.57" y2="236.73" stroke="#e4a11c" stroke-width="1.05" stroke-linecap="round"/>
<line x1="414.16" y1="232.02" x2="405.22" y2="239.08" stroke="#e4a11c" stroke-width="1.05" stroke-linecap="round"/>
<line x1="420.43" y1="232.8" x2="423.57" y2="236.73" stroke="#e4a11c" stroke-width="1.05" stroke-linecap="round"/>
<line x1="420.43" y1="232.8" x2="427.49" y2="227.31" stroke="#e4a11c" stroke-width="1.05" stroke-linecap="round"/>
<line x1="432.98" y1="235.16" x2="434.55" y2="227.31" stroke="#e4a11c" stroke-width="1.05" stroke-linecap="round"/>
<line x1="432.98" y1="235.16" x2="435.33" y2="244.1" stroke="#e4a11c" stroke-width="1.05" stroke-linecap="round"/>
<line x1="432.98" y1="235.16" x2="423.57" y2="236.73" stroke="#e4a11c" stroke-width="1.05" stroke-linecap="round"/>
<line x1="442.39" y1="236.73" x2="442.86" y2="244.1" stroke="#e4a11c" stroke-width="1.05" stroke-linecap="round"/>
<line x1="442.39" y1="236.73" x2="435.33" y2="244.1" stroke="#e4a11c" stroke-width="1.05" stroke-linecap="round"/>
<line x1="397.69" y1="246.14" x2="398.47" y2="239.08" stroke="#e4a11c" stroke-width="1.05" stroke-linecap="round"/>
<line x1="397.69" y1="246.14" x2="405.22" y2="239.08" stroke="#e4a11c" stroke-width="1.05" stroke-linecap="round"/>
<line x1="397.69" y1="246.14" x2="405.53" y2="254.45" stroke="#e4a11c" stroke-width="1.05" stroke-linecap="round"/>
<line x1="407.88" y1="246.92" x2="405.53" y2="254.45" stroke="#e4a11c" stroke-width="1.05" stroke-linecap="round"/>
<line x1="407.88" y1="246.92" x2="405.22" y2="239.08" stroke="#e4a11c" stroke-width="1.05" stroke-linecap="round"/>
<line x1="407.88" y1="246.92" x2="416.82" y2="246.92" stroke="#e4a11c" stroke-width="1.05" stroke-linecap="round"/>
<line x1="422" y1="249.27" x2="416.82" y2="246.92" stroke="#e4a11c" stroke-width="1.05" stroke-linecap="round"/>
<line x1="422" y1="249.27" x2="431.41" y2="253.51" stroke="#e4a11c" stroke-width="1.05" stroke-linecap="round"/>
<line x1="427.49" y1="250.06" x2="431.41" y2="253.51" stroke="#e4a11c" stroke-width="1.05" stroke-linecap="round"/>
<line x1="427.49" y1="250.06" x2="435.33" y2="244.1" stroke="#e4a11c" stroke-width="1.05" stroke-linecap="round"/>
<line x1="427.49" y1="250.06" x2="416.82" y2="246.92" stroke="#e4a11c" stroke-width="1.05" stroke-linecap="round"/>
<line x1="436.12" y1="251.63" x2="431.41" y2="253.51" stroke="#e4a11c" stroke-width="1.05" stroke-linecap="round"/>
<line x1="436.12" y1="251.63" x2="435.33" y2="244.1" stroke="#e4a11c" stroke-width="1.05" stroke-linecap="round"/>
<line x1="436.12" y1="251.63" x2="442.86" y2="244.1" stroke="#e4a11c" stroke-width="1.05" stroke-linecap="round"/>
<line x1="440.82" y1="253.2" x2="442.39" y2="260.25" stroke="#e4a11c" stroke-width="1.05" stroke-linecap="round"/>
<line x1="440.82" y1="253.2" x2="442.86" y2="244.1" stroke="#e4a11c" stroke-width="1.05" stroke-linecap="round"/>
<line x1="440.82" y1="253.2" x2="431.41" y2="253.51" stroke="#e4a11c" stroke-width="1.05" stroke-linecap="round"/>
<line x1="450.55" y1="253.2" x2="442.39" y2="260.25" stroke="#e4a11c" stroke-width="1.05" stroke-linecap="round"/>
<line x1="450.55" y1="253.2" x2="442.86" y2="244.1" stroke="#e4a11c" stroke-width="1.05" stroke-linecap="round"/>
<line x1="403.96" y1="263.39" x2="405.53" y2="254.45" stroke="#e4a11c" stroke-width="1.05" stroke-linecap="round"/>
<line x1="403.96" y1="263.39" x2="412.59" y2="256.33" stroke="#e4a11c" stroke-width="1.05" stroke-linecap="round"/>
<line x1="414.94" y1="263.39" x2="412.59" y2="256.33" stroke="#e4a11c" stroke-width="1.05" stroke-linecap="round"/>
<line x1="414.94" y1="263.39" x2="412.59" y2="272.02" stroke="#e4a11c" stroke-width="1.05" stroke-linecap="round"/>
<line x1="414.94" y1="263.39" x2="424.35" y2="261.82" stroke="#e4a11c" stroke-width="1.05" stroke-linecap="round"/>
<line x1="420.43" y1="265.75" x2="424.35" y2="261.82" stroke="#e4a11c" stroke-width="1.05" stroke-linecap="round"/>
<line x1="420.43" y1="265.75" x2="412.59" y2="272.02" stroke="#e4a11c" stroke-width="1.05" stroke-linecap="round"/>
<line x1="433.76" y1="265.75" x2="424.35" y2="261.82" stroke="#e4a11c" stroke-width="1.05" stroke-linecap="round"/>
<line x1="433.76" y1="265.75" x2="442.39" y2="260.25" stroke="#e4a11c" stroke-width="1.05" stroke-linecap="round"/>
<line x1="411.02" y1="266.53" x2="412.59" y2="272.02" stroke="#e4a11c" stroke-width="1.05" stroke-linecap="round"/>
<line x1="411.02" y1="266.53" x2="412.59" y2="256.33" stroke="#e4a11c" stroke-width="1.05" stroke-linecap="round"/>
<line x1="430.63" y1="215.55" x2="427.49" y2="210.84" stroke="#e4a11c" stroke-width="1.05" stroke-linecap="round"/>
<line x1="430.63" y1="215.55" x2="427.49" y2="227.31" stroke="#e4a11c" stroke-width="1.05" stroke-linecap="round"/>
<line x1="392.98" y1="234.37" x2="398.47" y2="239.08" stroke="#e4a11c" stroke-width="1.05" stroke-linecap="round"/>
<line x1="392.98" y1="234.37" x2="397.69" y2="222.61" stroke="#e4a11c" stroke-width="1.05" stroke-linecap="round"/>
<line x1="429.06" y1="240.65" x2="423.57" y2="236.73" stroke="#e4a11c" stroke-width="1.05" stroke-linecap="round"/>
<line x1="429.06" y1="240.65" x2="435.33" y2="244.1" stroke="#e4a11c" stroke-width="1.05" stroke-linecap="round"/>
<line x1="418.08" y1="254.76" x2="412.59" y2="256.33" stroke="#e4a11c" stroke-width="1.05" stroke-linecap="round"/>
<line x1="418.08" y1="254.76" x2="416.82" y2="246.92" stroke="#e4a11c" stroke-width="1.05" stroke-linecap="round"/>
<line x1="418.08" y1="254.76" x2="424.35" y2="261.82" stroke="#e4a11c" stroke-width="1.05" stroke-linecap="round"/>
<line x1="437.69" y1="231.24" x2="434.55" y2="227.31" stroke="#e4a11c" stroke-width="1.05" stroke-linecap="round"/>
<line x1="437.69" y1="231.24" x2="427.49" y2="227.31" stroke="#e4a11c" stroke-width="1.05" stroke-linecap="round"/>
<circle cx="406.31" cy="215.55" r="1.85" fill="url(#g_o)"/>
<circle cx="420.43" cy="217.9" r="1.85" fill="url(#g_o)"/>
<circle cx="425.92" cy="218.69" r="1.85" fill="url(#g_o)"/>
<circle cx="435.33" cy="220.25" r="1.85" fill="url(#g_o)"/>
<circle cx="389.84" cy="229.67" r="1.85" fill="url(#g_o)"/>
<circle cx="401.61" cy="231.24" r="1.85" fill="url(#g_o)"/>
<circle cx="414.16" cy="232.02" r="1.85" fill="url(#g_o)"/>
<circle cx="420.43" cy="232.8" r="1.85" fill="url(#g_o)"/>
<circle cx="432.98" cy="235.16" r="1.85" fill="url(#g_o)"/>
<circle cx="442.39" cy="236.73" r="1.85" fill="url(#g_o)"/>
<circle cx="397.69" cy="246.14" r="1.85" fill="url(#g_o)"/>
<circle cx="407.88" cy="246.92" r="1.85" fill="url(#g_o)"/>
<circle cx="422" cy="249.27" r="1.85" fill="url(#g_o)"/>
<circle cx="427.49" cy="250.06" r="1.85" fill="url(#g_o)"/>
<circle cx="436.12" cy="251.63" r="1.85" fill="url(#g_o)"/>
<circle cx="440.82" cy="253.2" r="1.85" fill="url(#g_o)"/>
<circle cx="450.55" cy="253.2" r="1.85" fill="url(#g_o)"/>
<circle cx="403.96" cy="263.39" r="1.85" fill="url(#g_o)"/>
<circle cx="414.94" cy="263.39" r="1.85" fill="url(#g_o)"/>
<circle cx="420.43" cy="265.75" r="1.85" fill="url(#g_o)"/>
<circle cx="433.76" cy="265.75" r="1.85" fill="url(#g_o)"/>
<circle cx="411.02" cy="266.53" r="1.85" fill="url(#g_o)"/>
<circle cx="430.63" cy="215.55" r="1.85" fill="url(#g_o)"/>
<circle cx="392.98" cy="234.37" r="1.85" fill="url(#g_o)"/>
<circle cx="429.06" cy="240.65" r="1.85" fill="url(#g_o)"/>
<circle cx="418.08" cy="254.76" r="1.85" fill="url(#g_o)"/>
<circle cx="437.69" cy="231.24" r="1.85" fill="url(#g_o)"/>
<circle cx="427.49" cy="210.84" r="3.1" fill="url(#g_ti)"/>
<circle cx="416.2" cy="219" r="3.5" fill="url(#g_cu2)"/>
<circle cx="397.69" cy="222.61" r="3.5" fill="url(#g_cu2)"/>
<circle cx="427.49" cy="227.31" r="3.1" fill="url(#g_ti)"/>
<circle cx="434.55" cy="227.31" r="3.1" fill="url(#g_ti)"/>
<circle cx="408.67" cy="230.92" r="3.1" fill="url(#g_ti)"/>
<circle cx="423.57" cy="236.73" r="3.1" fill="url(#g_ti)"/>
<circle cx="398.47" cy="239.08" r="3.1" fill="url(#g_ti)"/>
<circle cx="405.22" cy="239.08" r="3.5" fill="url(#g_cu2)"/>
<circle cx="435.33" cy="244.1" r="3.1" fill="url(#g_ti)"/>
<circle cx="442.86" cy="244.1" r="3.5" fill="url(#g_cu2)"/>
<circle cx="416.82" cy="246.92" r="3.1" fill="url(#g_ti)"/>
<circle cx="431.41" cy="253.51" r="3.1" fill="url(#g_ti)"/>
<circle cx="405.53" cy="254.45" r="3.5" fill="url(#g_cu2)"/>
<circle cx="412.59" cy="256.33" r="3.1" fill="url(#g_ti)"/>
<circle cx="442.39" cy="260.25" r="3.5" fill="url(#g_cu2)"/>
<circle cx="424.35" cy="261.82" r="3.1" fill="url(#g_ti)"/>
<circle cx="412.59" cy="272.02" r="3.1" fill="url(#g_ti)"/>
<text x="363.4" y="195.6" font-size="10.6" font-weight="bold" text-anchor="middle" fill="#0a0a0a" stroke="#0a0a0a" stroke-width="0.22">H<tspan dy="-0.61em" font-size="62%">+</tspan><tspan dy="0.38em" font-size="100%">&#8203;</tspan></text>
<text x="363" y="209.6" font-size="10.6" font-weight="bold" text-anchor="middle" fill="#0a0a0a" stroke="#0a0a0a" stroke-width="0.22">Step 2</text>
<text x="362.6" y="279.4" font-size="10.2" font-weight="bold" text-anchor="middle" fill="#0a0a0a" stroke="#0a0a0a" stroke-width="0.22">Step 1</text>
<text x="272.4" y="223.4" font-size="10.6" font-weight="bold" text-anchor="start" fill="#0a0a0a" stroke="#0a0a0a" stroke-width="0.22">Cu<tspan dy="-0.61em" font-size="62%">+</tspan><tspan dy="0.38em" font-size="100%">&#8203;</tspan></text>
<text x="440" y="226.4" font-size="10.6" font-weight="bold" text-anchor="start" fill="#0a0a0a" stroke="#0a0a0a" stroke-width="0.22">Cu<tspan dy="-0.61em" font-size="62%">2+</tspan><tspan dy="0.38em" font-size="100%">&#8203;</tspan></text>
<line x1="408.4" y1="187.6" x2="412.6" y2="194.2" stroke="#bbb" stroke-width="1.2"/>
<circle cx="408.4" cy="187.4" r="3.4" fill="url(#g_h)"/>
<circle cx="412.8" cy="194.2" r="3.4" fill="url(#g_h)"/>
<text x="418.4" y="198.8" font-size="10.6" font-weight="bold" text-anchor="start" fill="#0a0a0a" stroke="#0a0a0a" stroke-width="0.22">H<tspan dy="0.34em" font-size="65%">2</tspan><tspan dy="-0.22em" font-size="100%">&#8203;</tspan></text>
<text x="257.6" y="200.2" font-size="19" font-weight="bold" text-anchor="start" fill="#0a0a0a" stroke="#0a0a0a" stroke-width="0.22">d</text>
<line x1="328.6" y1="284.4" x2="400" y2="284.4" stroke="#ff3fb0" stroke-width="1.3"/>
<line x1="326.8" y1="290.8" x2="401" y2="290.8" stroke="#ff3a3a" stroke-width="0.9" stroke-dasharray="2 1.6"/>
<circle cx="331.6" cy="287.7" r="2.9" fill="url(#g_mag)"/>
<circle cx="337.97" cy="287.7" r="2.9" fill="url(#g_mag)"/>
<circle cx="344.34" cy="287.7" r="2.9" fill="url(#g_mag)"/>
<circle cx="350.71" cy="287.7" r="2.9" fill="url(#g_mag)"/>
<circle cx="357.08" cy="287.7" r="2.9" fill="url(#g_mag)"/>
<circle cx="363.45" cy="287.7" r="2.9" fill="url(#g_mag)"/>
<circle cx="369.82" cy="287.7" r="2.9" fill="url(#g_mag)"/>
<circle cx="376.19" cy="287.7" r="2.9" fill="url(#g_mag)"/>
<circle cx="382.56" cy="287.7" r="2.9" fill="url(#g_mag)"/>
<circle cx="388.93" cy="287.7" r="2.9" fill="url(#g_mag)"/>
<circle cx="395.3" cy="287.7" r="2.9" fill="url(#g_mag)"/>
<line x1="327.6" y1="325.6" x2="401" y2="325.6" stroke="#5f8fe8" stroke-width="0.9" stroke-dasharray="2 1.6"/>
<line x1="328.6" y1="332.5" x2="401" y2="332.5" stroke="#2f5fe0" stroke-width="1.4"/>
<circle cx="330.6" cy="328.6" r="2.7" fill="url(#g_navy)"/>
<circle cx="335.8" cy="328.6" r="2.7" fill="url(#g_navy)"/>
<circle cx="341" cy="328.6" r="2.7" fill="url(#g_navy)"/>
<circle cx="346.2" cy="328.6" r="2.7" fill="url(#g_navy)"/>
<circle cx="351.4" cy="328.6" r="2.7" fill="url(#g_navy)"/>
<circle cx="356.6" cy="328.6" r="2.7" fill="url(#g_navy)"/>
<circle cx="361.8" cy="328.6" r="2.7" fill="url(#g_navy)"/>
<circle cx="367" cy="328.6" r="2.7" fill="url(#g_navy)"/>
<circle cx="372.2" cy="328.6" r="2.7" fill="url(#g_navy)"/>
<circle cx="377.4" cy="328.6" r="2.7" fill="url(#g_navy)"/>
<circle cx="382.6" cy="328.6" r="2.7" fill="url(#g_navy)"/>
<circle cx="387.8" cy="328.6" r="2.7" fill="url(#g_navy)"/>
<circle cx="393" cy="328.6" r="2.7" fill="url(#g_navy)"/>
<circle cx="398.2" cy="328.6" r="2.7" fill="url(#g_navy)"/>
<text x="316.8" y="288.4" font-size="7.2" font-weight="bold" text-anchor="start" fill="#0a0a0a">CB</text>
<text x="316.4" y="332" font-size="7.2" font-weight="bold" text-anchor="start" fill="#0a0a0a">VB</text>
<text x="400.4" y="283.4" font-size="9.5" font-weight="bold" text-anchor="start" fill="#f020d0" stroke="#f020d0" stroke-width="0.22">e<tspan dy="-0.61em" font-size="62%">-</tspan><tspan dy="0.38em" font-size="100%">&#8203;</tspan></text>
<line x1="333.1" y1="323" x2="333.1" y2="296.6" stroke="#444" stroke-width="0.9"/>
<path d="M331.3,297.6 L333.1,293.6 L334.9,297.6 Z" fill="#444"/>
<line x1="349.5" y1="299.72" x2="359.37" y2="301.62" stroke="#e4a11c" stroke-width="1" stroke-linecap="round"/>
<line x1="349.5" y1="299.72" x2="348.65" y2="309.73" stroke="#e4a11c" stroke-width="1" stroke-linecap="round"/>
<line x1="349.5" y1="299.72" x2="343.5" y2="294.72" stroke="#e4a11c" stroke-width="1" stroke-linecap="round"/>
<line x1="348.65" y1="309.73" x2="358.46" y2="312.39" stroke="#e4a11c" stroke-width="1" stroke-linecap="round"/>
<line x1="348.65" y1="309.73" x2="346.02" y2="320.17" stroke="#e4a11c" stroke-width="1" stroke-linecap="round"/>
<line x1="348.65" y1="309.73" x2="342.65" y2="304.73" stroke="#e4a11c" stroke-width="1" stroke-linecap="round"/>
<line x1="346.02" y1="320.17" x2="355.59" y2="321.61" stroke="#e4a11c" stroke-width="1" stroke-linecap="round"/>
<line x1="346.02" y1="320.17" x2="340.02" y2="315.17" stroke="#e4a11c" stroke-width="1" stroke-linecap="round"/>
<line x1="359.37" y1="301.62" x2="369.58" y2="304.22" stroke="#e4a11c" stroke-width="1" stroke-linecap="round"/>
<line x1="359.37" y1="301.62" x2="358.46" y2="312.39" stroke="#e4a11c" stroke-width="1" stroke-linecap="round"/>
<line x1="359.37" y1="301.62" x2="353.37" y2="296.62" stroke="#e4a11c" stroke-width="1" stroke-linecap="round"/>
<line x1="358.46" y1="312.39" x2="368.99" y2="312.88" stroke="#e4a11c" stroke-width="1" stroke-linecap="round"/>
<line x1="358.46" y1="312.39" x2="355.59" y2="321.61" stroke="#e4a11c" stroke-width="1" stroke-linecap="round"/>
<line x1="358.46" y1="312.39" x2="352.46" y2="307.39" stroke="#e4a11c" stroke-width="1" stroke-linecap="round"/>
<line x1="355.59" y1="321.61" x2="367.76" y2="324.93" stroke="#e4a11c" stroke-width="1" stroke-linecap="round"/>
<line x1="355.59" y1="321.61" x2="349.59" y2="316.61" stroke="#e4a11c" stroke-width="1" stroke-linecap="round"/>
<line x1="369.58" y1="304.22" x2="381.11" y2="305.83" stroke="#e4a11c" stroke-width="1" stroke-linecap="round"/>
<line x1="369.58" y1="304.22" x2="368.99" y2="312.88" stroke="#e4a11c" stroke-width="1" stroke-linecap="round"/>
<line x1="369.58" y1="304.22" x2="363.58" y2="299.22" stroke="#e4a11c" stroke-width="1" stroke-linecap="round"/>
<line x1="368.99" y1="312.88" x2="378.31" y2="314.83" stroke="#e4a11c" stroke-width="1" stroke-linecap="round"/>
<line x1="368.99" y1="312.88" x2="367.76" y2="324.93" stroke="#e4a11c" stroke-width="1" stroke-linecap="round"/>
<line x1="368.99" y1="312.88" x2="362.99" y2="307.88" stroke="#e4a11c" stroke-width="1" stroke-linecap="round"/>
<line x1="367.76" y1="324.93" x2="377.26" y2="325.12" stroke="#e4a11c" stroke-width="1" stroke-linecap="round"/>
<line x1="367.76" y1="324.93" x2="361.76" y2="319.93" stroke="#e4a11c" stroke-width="1" stroke-linecap="round"/>
<line x1="381.11" y1="305.83" x2="378.31" y2="314.83" stroke="#e4a11c" stroke-width="1" stroke-linecap="round"/>
<line x1="381.11" y1="305.83" x2="375.11" y2="300.83" stroke="#e4a11c" stroke-width="1" stroke-linecap="round"/>
<line x1="378.31" y1="314.83" x2="377.26" y2="325.12" stroke="#e4a11c" stroke-width="1" stroke-linecap="round"/>
<line x1="378.31" y1="314.83" x2="372.31" y2="309.83" stroke="#e4a11c" stroke-width="1" stroke-linecap="round"/>
<line x1="377.26" y1="325.12" x2="371.26" y2="320.12" stroke="#e4a11c" stroke-width="1" stroke-linecap="round"/>
<circle cx="353.94" cy="300.26" r="1.3" fill="url(#g_o)"/>
<circle cx="348.32" cy="304.67" r="1.3" fill="url(#g_o)"/>
<circle cx="346.5" cy="297.22" r="1.3" fill="url(#g_o)"/>
<circle cx="353.46" cy="311.61" r="1.3" fill="url(#g_o)"/>
<circle cx="347.36" cy="315.18" r="1.3" fill="url(#g_o)"/>
<circle cx="345.65" cy="307.23" r="1.3" fill="url(#g_o)"/>
<circle cx="350.8" cy="321.15" r="1.3" fill="url(#g_o)"/>
<circle cx="343.02" cy="317.67" r="1.3" fill="url(#g_o)"/>
<circle cx="364.41" cy="302.57" r="1.3" fill="url(#g_o)"/>
<circle cx="359.71" cy="307.8" r="1.3" fill="url(#g_o)"/>
<circle cx="356.37" cy="299.12" r="1.3" fill="url(#g_o)"/>
<circle cx="364.27" cy="312.97" r="1.3" fill="url(#g_o)"/>
<circle cx="356.73" cy="316.56" r="1.3" fill="url(#g_o)"/>
<circle cx="355.46" cy="309.89" r="1.3" fill="url(#g_o)"/>
<circle cx="361.34" cy="322.58" r="1.3" fill="url(#g_o)"/>
<circle cx="352.59" cy="319.11" r="1.3" fill="url(#g_o)"/>
<circle cx="375.77" cy="304.87" r="1.3" fill="url(#g_o)"/>
<circle cx="369.84" cy="308.37" r="1.3" fill="url(#g_o)"/>
<circle cx="366.58" cy="301.72" r="1.3" fill="url(#g_o)"/>
<circle cx="374.38" cy="314.41" r="1.3" fill="url(#g_o)"/>
<circle cx="367.58" cy="318.44" r="1.3" fill="url(#g_o)"/>
<circle cx="365.99" cy="310.38" r="1.3" fill="url(#g_o)"/>
<circle cx="373.17" cy="324.98" r="1.3" fill="url(#g_o)"/>
<circle cx="364.76" cy="322.43" r="1.3" fill="url(#g_o)"/>
<circle cx="380.48" cy="310.17" r="1.3" fill="url(#g_o)"/>
<circle cx="378.11" cy="303.33" r="1.3" fill="url(#g_o)"/>
<circle cx="377.1" cy="320.18" r="1.3" fill="url(#g_o)"/>
<circle cx="375.31" cy="312.33" r="1.3" fill="url(#g_o)"/>
<circle cx="374.26" cy="322.62" r="1.3" fill="url(#g_o)"/>
<circle cx="349.5" cy="299.72" r="2.05" fill="url(#g_ti)"/>
<circle cx="348.65" cy="309.73" r="2.05" fill="url(#g_ti)"/>
<circle cx="346.02" cy="320.17" r="2.05" fill="url(#g_ti)"/>
<circle cx="359.37" cy="301.62" r="2.05" fill="url(#g_ti)"/>
<circle cx="358.46" cy="312.39" r="2.05" fill="url(#g_ti)"/>
<circle cx="355.59" cy="321.61" r="2.05" fill="url(#g_ti)"/>
<circle cx="369.58" cy="304.22" r="2.05" fill="url(#g_ti)"/>
<circle cx="368.99" cy="312.88" r="2.05" fill="url(#g_ti)"/>
<circle cx="367.76" cy="324.93" r="2.05" fill="url(#g_ti)"/>
<circle cx="381.11" cy="305.83" r="2.05" fill="url(#g_ti)"/>
<circle cx="378.31" cy="314.83" r="2.05" fill="url(#g_ti)"/>
<circle cx="377.26" cy="325.12" r="2.05" fill="url(#g_ti)"/>
<line x1="344.16" y1="294.14" x2="353.24" y2="296.09" stroke="#e4a11c" stroke-width="1" stroke-linecap="round"/>
<line x1="344.16" y1="294.14" x2="340.97" y2="304.47" stroke="#e4a11c" stroke-width="1" stroke-linecap="round"/>
<line x1="340.97" y1="304.47" x2="351.4" y2="305.92" stroke="#e4a11c" stroke-width="1" stroke-linecap="round"/>
<line x1="340.97" y1="304.47" x2="340.93" y2="315.52" stroke="#e4a11c" stroke-width="1" stroke-linecap="round"/>
<line x1="340.93" y1="315.52" x2="350.99" y2="316.36" stroke="#e4a11c" stroke-width="1" stroke-linecap="round"/>
<line x1="353.24" y1="296.09" x2="364.52" y2="298.49" stroke="#e4a11c" stroke-width="1" stroke-linecap="round"/>
<line x1="353.24" y1="296.09" x2="351.4" y2="305.92" stroke="#e4a11c" stroke-width="1" stroke-linecap="round"/>
<line x1="351.4" y1="305.92" x2="361.98" y2="309.26" stroke="#e4a11c" stroke-width="1" stroke-linecap="round"/>
<line x1="351.4" y1="305.92" x2="350.99" y2="316.36" stroke="#e4a11c" stroke-width="1" stroke-linecap="round"/>
<line x1="350.99" y1="316.36" x2="360.06" y2="319.29" stroke="#e4a11c" stroke-width="1" stroke-linecap="round"/>
<line x1="364.52" y1="298.49" x2="374.03" y2="300.44" stroke="#e4a11c" stroke-width="1" stroke-linecap="round"/>
<line x1="364.52" y1="298.49" x2="361.98" y2="309.26" stroke="#e4a11c" stroke-width="1" stroke-linecap="round"/>
<line x1="361.98" y1="309.26" x2="372.43" y2="310.34" stroke="#e4a11c" stroke-width="1" stroke-linecap="round"/>
<line x1="361.98" y1="309.26" x2="360.06" y2="319.29" stroke="#e4a11c" stroke-width="1" stroke-linecap="round"/>
<line x1="360.06" y1="319.29" x2="372.14" y2="321.61" stroke="#e4a11c" stroke-width="1" stroke-linecap="round"/>
<line x1="374.03" y1="300.44" x2="372.43" y2="310.34" stroke="#e4a11c" stroke-width="1" stroke-linecap="round"/>
<line x1="372.43" y1="310.34" x2="372.14" y2="321.61" stroke="#e4a11c" stroke-width="1" stroke-linecap="round"/>
<circle cx="348.38" cy="295.73" r="1.3" fill="url(#g_o)"/>
<circle cx="342.1" cy="299.13" r="1.3" fill="url(#g_o)"/>
<circle cx="346.76" cy="305.42" r="1.3" fill="url(#g_o)"/>
<circle cx="340.31" cy="310.77" r="1.3" fill="url(#g_o)"/>
<circle cx="345.5" cy="315.55" r="1.3" fill="url(#g_o)"/>
<circle cx="359.31" cy="297.02" r="1.3" fill="url(#g_o)"/>
<circle cx="351.99" cy="300.32" r="1.3" fill="url(#g_o)"/>
<circle cx="356.04" cy="307.72" r="1.3" fill="url(#g_o)"/>
<circle cx="350.79" cy="311.3" r="1.3" fill="url(#g_o)"/>
<circle cx="355.32" cy="317.75" r="1.3" fill="url(#g_o)"/>
<circle cx="370.01" cy="299.44" r="1.3" fill="url(#g_o)"/>
<circle cx="363.37" cy="304.47" r="1.3" fill="url(#g_o)"/>
<circle cx="366.7" cy="309.25" r="1.3" fill="url(#g_o)"/>
<circle cx="361.68" cy="314.78" r="1.3" fill="url(#g_o)"/>
<circle cx="365.7" cy="319.95" r="1.3" fill="url(#g_o)"/>
<circle cx="373.61" cy="306.1" r="1.3" fill="url(#g_o)"/>
<circle cx="371.8" cy="316.69" r="1.3" fill="url(#g_o)"/>
<circle cx="344.16" cy="294.14" r="2.05" fill="url(#g_ti)"/>
<circle cx="340.97" cy="304.47" r="2.05" fill="url(#g_ti)"/>
<circle cx="340.93" cy="315.52" r="2.05" fill="url(#g_ti)"/>
<circle cx="353.24" cy="296.09" r="2.05" fill="url(#g_ti)"/>
<circle cx="351.4" cy="305.92" r="2.05" fill="url(#g_ti)"/>
<circle cx="350.99" cy="316.36" r="2.05" fill="url(#g_ti)"/>
<circle cx="364.52" cy="298.49" r="2.05" fill="url(#g_ti)"/>
<circle cx="361.98" cy="309.26" r="2.05" fill="url(#g_ti)"/>
<circle cx="360.06" cy="319.29" r="2.05" fill="url(#g_ti)"/>
<circle cx="374.03" cy="300.44" r="2.05" fill="url(#g_ti)"/>
<circle cx="372.43" cy="310.34" r="2.05" fill="url(#g_ti)"/>
<circle cx="372.14" cy="321.61" r="2.05" fill="url(#g_ti)"/>
<text x="380.6" y="310.4" font-size="9" font-weight="bold" text-anchor="start" fill="#0a0a0a" stroke="#0a0a0a" stroke-width="0.22">TiO<tspan dy="0.34em" font-size="65%">2</tspan><tspan dy="-0.22em" font-size="100%">&#8203;</tspan></text>
<rect x="253.4" y="287.2" width="49.8" height="59.8" fill="#fff" stroke="#444" stroke-width="1.2" stroke-dasharray="1.3 1.9"/>
<circle cx="263.4" cy="294.6" r="2.6" fill="url(#g_cup)"/>
<text x="268.6" y="297.6" font-size="8.35" font-weight="bold" text-anchor="start" fill="#0a0a0a" stroke="#0a0a0a" stroke-width="0.22">Cu<tspan dy="-0.61em" font-size="62%">+</tspan><tspan dy="0.38em" font-size="100%">&#8203;</tspan></text>
<circle cx="263.4" cy="303.66" r="2.6" fill="url(#g_cu2)"/>
<text x="268.6" y="306.66" font-size="8.35" font-weight="bold" text-anchor="start" fill="#0a0a0a" stroke="#0a0a0a" stroke-width="0.22">Cu<tspan dy="-0.61em" font-size="62%">2+</tspan><tspan dy="0.38em" font-size="100%">&#8203;</tspan></text>
<circle cx="263.4" cy="312.72" r="2.3" fill="url(#g_ti)"/>
<text x="268.6" y="315.72" font-size="8.35" font-weight="bold" text-anchor="start" fill="#0a0a0a" stroke="#0a0a0a" stroke-width="0.22">Ti atom</text>
<circle cx="263.4" cy="321.78" r="2.3" fill="url(#g_o)"/>
<text x="268.6" y="324.78" font-size="8.35" font-weight="bold" text-anchor="start" fill="#0a0a0a" stroke="#0a0a0a" stroke-width="0.22">O atom</text>
<circle cx="263.4" cy="330.84" r="2.3" fill="url(#g_c)"/>
<text x="268.6" y="333.84" font-size="8.35" font-weight="bold" text-anchor="start" fill="#0a0a0a" stroke="#0a0a0a" stroke-width="0.22">C atom</text>
<circle cx="263.4" cy="339.9" r="2.3" fill="url(#g_h)"/>
<text x="268.6" y="342.9" font-size="8.35" font-weight="bold" text-anchor="start" fill="#0a0a0a" stroke="#0a0a0a" stroke-width="0.22">H atom</text>
<path d="M403.6,337.6 C399.6,327.4 401.6,319.6 409.6,316.4 C413.6,314.9 418.6,314.6 424.2,314.7" fill="none" stroke="url(#sw3)" stroke-width="2.7" stroke-linecap="butt"/>
<path d="M423.2,311.2 L429.0,314.9 L423.2,318.6 Z" fill="#c2c2c2"/>
<text x="406.8" y="327" font-size="11.4" font-weight="bold" text-anchor="start" fill="#16308c" stroke="#16308c" stroke-width="0.22">h<tspan dy="-0.61em" font-size="62%">+</tspan><tspan dy="0.38em" font-size="100%">&#8203;</tspan></text>
<line x1="398.4" y1="346.8" x2="394.7" y2="343.3" stroke="#6a6a6a" stroke-width="1.4" stroke-linecap="round"/>
<line x1="394.7" y1="343.3" x2="391" y2="339.8" stroke="#cdbcbc" stroke-width="1.4" stroke-linecap="round"/>
<line x1="398.4" y1="346.8" x2="395.8" y2="349.7" stroke="#6a6a6a" stroke-width="1.4" stroke-linecap="round"/>
<line x1="395.8" y1="349.7" x2="393.2" y2="352.6" stroke="#cdbcbc" stroke-width="1.4" stroke-linecap="round"/>
<line x1="398.4" y1="346.8" x2="399.7" y2="350.7" stroke="#6a6a6a" stroke-width="1.4" stroke-linecap="round"/>
<line x1="399.7" y1="350.7" x2="401" y2="354.6" stroke="#cdbcbc" stroke-width="1.4" stroke-linecap="round"/>
<line x1="398.4" y1="346.8" x2="404.55" y2="344.2" stroke="#6a6a6a" stroke-width="1.8" stroke-linecap="round"/>
<line x1="404.55" y1="344.2" x2="410.7" y2="341.6" stroke="#d81c14" stroke-width="1.8" stroke-linecap="round"/>
<line x1="410.7" y1="341.6" x2="412.65" y2="344.4" stroke="#d81c14" stroke-width="1.3" stroke-linecap="round"/>
<line x1="412.65" y1="344.4" x2="414.6" y2="347.2" stroke="#cdbcbc" stroke-width="1.3" stroke-linecap="round"/>
<circle cx="391" cy="339.8" r="2.6" fill="url(#g_h)"/>
<circle cx="393.2" cy="352.6" r="2.6" fill="url(#g_h)"/>
<circle cx="401" cy="354.6" r="2.6" fill="url(#g_h)"/>
<circle cx="414.6" cy="347.2" r="1.6" fill="url(#g_h)"/>
<circle cx="398.4" cy="346.8" r="3.5" fill="url(#g_c)"/>
<circle cx="410.7" cy="341.6" r="3.2" fill="url(#g_o)"/>
<text x="405" y="356.6" font-size="8" font-weight="bold" text-anchor="start" fill="#0a0a0a" stroke="#0a0a0a" stroke-width="0.22">CH<tspan dy="0.34em" font-size="65%">3</tspan><tspan dy="-0.22em" font-size="100%">&#8203;</tspan>OH</text>
<line x1="436" y1="316.6" x2="432.8" y2="311.6" stroke="#6a6a6a" stroke-width="1.4" stroke-linecap="round"/>
<line x1="432.8" y1="311.6" x2="429.6" y2="306.6" stroke="#cdbcbc" stroke-width="1.4" stroke-linecap="round"/>
<line x1="436" y1="316.6" x2="433.7" y2="320.4" stroke="#6a6a6a" stroke-width="1.4" stroke-linecap="round"/>
<line x1="433.7" y1="320.4" x2="431.4" y2="324.2" stroke="#cdbcbc" stroke-width="1.4" stroke-linecap="round"/>
<line x1="436" y1="316.6" x2="442.3" y2="316.4" stroke="#6a6a6a" stroke-width="2.2" stroke-linecap="round"/>
<line x1="442.3" y1="316.4" x2="448.6" y2="316.2" stroke="#d81c14" stroke-width="2.2" stroke-linecap="round"/>
<circle cx="429.6" cy="306.6" r="2.6" fill="url(#g_h)"/>
<circle cx="431.4" cy="324.2" r="2.6" fill="url(#g_h)"/>
<circle cx="436" cy="316.6" r="3.8" fill="url(#g_c)"/>
<circle cx="448.6" cy="316.2" r="3.4" fill="url(#g_o)"/>
<text x="446.6" y="332.8" font-size="8.2" font-weight="bold" text-anchor="middle" fill="#0a0a0a" stroke="#0a0a0a" stroke-width="0.22">HCHO</text>
<path d="M454.8,313.8 L463.4,313.8 L463.4,311.2 L469.4,315.2 L463.4,319.2 L463.4,316.6 L454.8,316.6 Z" fill="#bdbdbd"/>
<line x1="477.4" y1="312.8" x2="475.2" y2="317.8" stroke="#6a6a6a" stroke-width="1.4" stroke-linecap="round"/>
<line x1="475.2" y1="317.8" x2="473" y2="322.8" stroke="#cdbcbc" stroke-width="1.4" stroke-linecap="round"/>
<line x1="477.4" y1="312.8" x2="474.3" y2="307.7" stroke="#6a6a6a" stroke-width="2" stroke-linecap="round"/>
<line x1="474.3" y1="307.7" x2="471.2" y2="302.6" stroke="#d81c14" stroke-width="2" stroke-linecap="round"/>
<line x1="477.4" y1="312.8" x2="483.9" y2="312.5" stroke="#6a6a6a" stroke-width="1.8" stroke-linecap="round"/>
<line x1="483.9" y1="312.5" x2="490.4" y2="312.2" stroke="#d81c14" stroke-width="1.8" stroke-linecap="round"/>
<line x1="490.4" y1="312.2" x2="493.2" y2="315.9" stroke="#d81c14" stroke-width="1.2" stroke-linecap="round"/>
<line x1="493.2" y1="315.9" x2="496" y2="319.6" stroke="#cdbcbc" stroke-width="1.2" stroke-linecap="round"/>
<circle cx="473" cy="322.8" r="2.5" fill="url(#g_h)"/>
<circle cx="496" cy="319.6" r="1.5" fill="url(#g_h)"/>
<circle cx="477.4" cy="312.8" r="3.8" fill="url(#g_c)"/>
<circle cx="471.2" cy="302.6" r="3.3" fill="url(#g_o)"/>
<circle cx="490.4" cy="312.2" r="3.1" fill="url(#g_o)"/>
<text x="490" y="332.8" font-size="8.2" font-weight="bold" text-anchor="middle" fill="#0a0a0a" stroke="#0a0a0a" stroke-width="0.22">HCOOH</text>
<text x="60.4" y="379.4" font-size="19" font-weight="bold" text-anchor="start" fill="#0a0a0a" stroke="#0a0a0a" stroke-width="0.22">e</text>
<g clip-path="url(#c1)">
<rect x="95" y="365.5" width="96.6" height="70" fill="#161616" stroke="none" stroke-width="1"/>
<g filter="url(#soft)">
<polygon points="94.5,364.61 104.36,364.61 106.26,370.3 103.04,380.17 94.5,380.93" fill="#b4b4b4" stroke="#f2f2f2" stroke-width="2.5" stroke-linejoin="round"/>
<polygon points="94.5,364.61 104.36,364.61 106.26,370.3 103.04,380.17 94.5,380.93" fill="#b4b4b4" stroke="#b4b4b4" stroke-width="1.2" stroke-linejoin="round"/>
<polygon points="94.5,364.61 104.36,364.61 106.26,370.3 103.04,380.17 94.5,380.93" fill="url(#pg)"/>
<polygon points="105.26,366.98 121.96,367.36 124.24,374.57 116.27,381.21 104.88,380.26 107.54,370.39" fill="#9e9e9e" stroke="#f2f2f2" stroke-width="2.5" stroke-linejoin="round"/>
<polygon points="105.26,366.98 121.96,367.36 124.24,374.57 116.27,381.21 104.88,380.26 107.54,370.39" fill="#9e9e9e" stroke="#9e9e9e" stroke-width="1.2" stroke-linejoin="round"/>
<polygon points="105.26,366.98 121.96,367.36 124.24,374.57 116.27,381.21 104.88,380.26 107.54,370.39" fill="url(#pg)"/>
<polygon points="123.4,364.44 134.41,364.44 132.89,372.03 127.19,375.82 124.16,371.65" fill="#7c7c7c" stroke="#f2f2f2" stroke-width="2.5" stroke-linejoin="round"/>
<polygon points="123.4,364.44 134.41,364.44 132.89,372.03 127.19,375.82 124.16,371.65" fill="#7c7c7c" stroke="#7c7c7c" stroke-width="1.2" stroke-linejoin="round"/>
<polygon points="123.4,364.44 134.41,364.44 132.89,372.03 127.19,375.82 124.16,371.65" fill="url(#pg)"/>
<polygon points="153.62,374.41 163.49,373.65 165.39,384.28 159.7,390.35 152.49,387.31" fill="#666" stroke="#f2f2f2" stroke-width="2.5" stroke-linejoin="round"/>
<polygon points="153.62,374.41 163.49,373.65 165.39,384.28 159.7,390.35 152.49,387.31" fill="#666" stroke="#666" stroke-width="1.2" stroke-linejoin="round"/>
<polygon points="153.62,374.41 163.49,373.65 165.39,384.28 159.7,390.35 152.49,387.31" fill="url(#pg)"/>
<polygon points="131.44,372.78 143.78,368.98 151.56,374.68 150.42,386.07 142.83,391.76 133.34,388.34 128.59,380.37" fill="#8c8c8c" stroke="#f2f2f2" stroke-width="2.5" stroke-linejoin="round"/>
<polygon points="131.44,372.78 143.78,368.98 151.56,374.68 150.42,386.07 142.83,391.76 133.34,388.34 128.59,380.37" fill="#8c8c8c" stroke="#8c8c8c" stroke-width="1.2" stroke-linejoin="round"/>
<polygon points="131.44,372.78 143.78,368.98 151.56,374.68 150.42,386.07 142.83,391.76 133.34,388.34 128.59,380.37" fill="url(#pg)"/>
<polygon points="164.47,368.53 173.96,364.73 187.62,365.49 192.18,374.22 190.66,381.05 181.55,382.19 170.16,380.29 165.42,374.6" fill="#a4a4a4" stroke="#f2f2f2" stroke-width="2.5" stroke-linejoin="round"/>
<polygon points="164.47,368.53 173.96,364.73 187.62,365.49 192.18,374.22 190.66,381.05 181.55,382.19 170.16,380.29 165.42,374.6" fill="#a4a4a4" stroke="#a4a4a4" stroke-width="1.2" stroke-linejoin="round"/>
<polygon points="164.47,368.53 173.96,364.73 187.62,365.49 192.18,374.22 190.66,381.05 181.55,382.19 170.16,380.29 165.42,374.6" fill="url(#pg)"/>
<polygon points="172.26,381.93 181.75,377 190.48,382.69 189.72,392.56 179.86,394.46 173.02,390.29" fill="#a9a9a9" stroke="#f2f2f2" stroke-width="2.5" stroke-linejoin="round"/>
<polygon points="172.26,381.93 181.75,377 190.48,382.69 189.72,392.56 179.86,394.46 173.02,390.29" fill="#a9a9a9" stroke="#a9a9a9" stroke-width="1.2" stroke-linejoin="round"/>
<polygon points="172.26,381.93 181.75,377 190.48,382.69 189.72,392.56 179.86,394.46 173.02,390.29" fill="url(#pg)"/>
<polygon points="94.7,382.81 109.89,381.86 114.06,388.5 104.19,394.57 94.7,392.67" fill="#9a9a9a" stroke="#f2f2f2" stroke-width="2.5" stroke-linejoin="round"/>
<polygon points="94.7,382.81 109.89,381.86 114.06,388.5 104.19,394.57 94.7,392.67" fill="#9a9a9a" stroke="#9a9a9a" stroke-width="1.2" stroke-linejoin="round"/>
<polygon points="94.7,382.81 109.89,381.86 114.06,388.5 104.19,394.57 94.7,392.67" fill="url(#pg)"/>
<polygon points="113.24,389.06 126.53,387.16 132.6,396.65 130.32,404.62 118.94,402.72" fill="#a2a2a2" stroke="#f2f2f2" stroke-width="2.5" stroke-linejoin="round"/>
<polygon points="113.24,389.06 126.53,387.16 132.6,396.65 130.32,404.62 118.94,402.72" fill="#a2a2a2" stroke="#a2a2a2" stroke-width="1.2" stroke-linejoin="round"/>
<polygon points="113.24,389.06 126.53,387.16 132.6,396.65 130.32,404.62 118.94,402.72" fill="url(#pg)"/>
<polygon points="132.41,387.03 142.85,383.23 148.92,390.82 147.78,402.21 139.05,405.25 132.41,396.52" fill="#8a8a8a" stroke="#f2f2f2" stroke-width="2.5" stroke-linejoin="round"/>
<polygon points="132.41,387.03 142.85,383.23 148.92,390.82 147.78,402.21 139.05,405.25 132.41,396.52" fill="#8a8a8a" stroke="#8a8a8a" stroke-width="1.2" stroke-linejoin="round"/>
<polygon points="132.41,387.03 142.85,383.23 148.92,390.82 147.78,402.21 139.05,405.25 132.41,396.52" fill="url(#pg)"/>
<polygon points="153.67,388.8 162.21,386.53 167.34,392.6 161.26,397.92 153.67,396.4" fill="#777" stroke="#f2f2f2" stroke-width="2.5" stroke-linejoin="round"/>
<polygon points="153.67,388.8 162.21,386.53 167.34,392.6 161.26,397.92 153.67,396.4" fill="#777" stroke="#777" stroke-width="1.2" stroke-linejoin="round"/>
<polygon points="153.67,388.8 162.21,386.53 167.34,392.6 161.26,397.92 153.67,396.4" fill="url(#pg)"/>
<polygon points="145.49,396.43 156.87,398.32 161.05,403.07 155.35,416.35 145.49,417.49 142.45,406.86" fill="#969696" stroke="#f2f2f2" stroke-width="2.5" stroke-linejoin="round"/>
<polygon points="145.49,396.43 156.87,398.32 161.05,403.07 155.35,416.35 145.49,417.49 142.45,406.86" fill="#969696" stroke="#969696" stroke-width="1.2" stroke-linejoin="round"/>
<polygon points="145.49,396.43 156.87,398.32 161.05,403.07 155.35,416.35 145.49,417.49 142.45,406.86" fill="url(#pg)"/>
<polygon points="163.15,397.26 172.64,393.46 182.32,399.15 182.32,410.54 173.59,416.24 164.1,411.68" fill="#8c8c8c" stroke="#f2f2f2" stroke-width="2.5" stroke-linejoin="round"/>
<polygon points="163.15,397.26 172.64,393.46 182.32,399.15 182.32,410.54 173.59,416.24 164.1,411.68" fill="#8c8c8c" stroke="#8c8c8c" stroke-width="1.2" stroke-linejoin="round"/>
<polygon points="163.15,397.26 172.64,393.46 182.32,399.15 182.32,410.54 173.59,416.24 164.1,411.68" fill="url(#pg)"/>
<polygon points="182.63,403.4 192.87,401.5 192.87,420.86 184.52,418.97" fill="#7a7a7a" stroke="#f2f2f2" stroke-width="2.5" stroke-linejoin="round"/>
<polygon points="182.63,403.4 192.87,401.5 192.87,420.86 184.52,418.97" fill="#7a7a7a" stroke="#7a7a7a" stroke-width="1.2" stroke-linejoin="round"/>
<polygon points="182.63,403.4 192.87,401.5 192.87,420.86 184.52,418.97" fill="url(#pg)"/>
<polygon points="148.06,421.86 161.34,413.89 173.11,419.58 173.11,435.91 148.06,435.91" fill="#747474" stroke="#f2f2f2" stroke-width="2.5" stroke-linejoin="round"/>
<polygon points="148.06,421.86 161.34,413.89 173.11,419.58 173.11,435.91 148.06,435.91" fill="#747474" stroke="#747474" stroke-width="1.2" stroke-linejoin="round"/>
<polygon points="148.06,421.86 161.34,413.89 173.11,419.58 173.11,435.91 148.06,435.91" fill="url(#pg)"/>
<polygon points="174.71,420.57 192.55,422.09 192.55,436.14 174.71,436.14" fill="#858585" stroke="#f2f2f2" stroke-width="2.5" stroke-linejoin="round"/>
<polygon points="174.71,420.57 192.55,422.09 192.55,436.14 174.71,436.14" fill="#858585" stroke="#858585" stroke-width="1.2" stroke-linejoin="round"/>
<polygon points="174.71,420.57 192.55,422.09 192.55,436.14 174.71,436.14" fill="url(#pg)"/>
<polygon points="94.43,395.29 105.82,396.81 103.92,410.47 94.43,412.37" fill="#6c6c6c" stroke="#f2f2f2" stroke-width="2.5" stroke-linejoin="round"/>
<polygon points="94.43,395.29 105.82,396.81 103.92,410.47 94.43,412.37" fill="#6c6c6c" stroke="#6c6c6c" stroke-width="1.2" stroke-linejoin="round"/>
<polygon points="94.43,395.29 105.82,396.81 103.92,410.47 94.43,412.37" fill="url(#pg)"/>
<polygon points="133.19,409.86 142.68,408.35 144.96,421.25 138.89,435.68 131.3,435.68" fill="#5e5e5e" stroke="#f2f2f2" stroke-width="2.5" stroke-linejoin="round"/>
<polygon points="133.19,409.86 142.68,408.35 144.96,421.25 138.89,435.68 131.3,435.68" fill="#5e5e5e" stroke="#5e5e5e" stroke-width="1.2" stroke-linejoin="round"/>
<polygon points="133.19,409.86 142.68,408.35 144.96,421.25 138.89,435.68 131.3,435.68" fill="url(#pg)"/>
</g>
<circle cx="120.2" cy="418.2" r="25" fill="#c6f5f6"/>
<rect x="105.8" y="400.9" width="9.2" height="9.2" rx="2.2" fill="none" stroke="#d86ad0" stroke-width="0.7" stroke-dasharray="1.3 1"/>
<rect x="105" y="400.1" width="10.8" height="10.8" rx="2.2" fill="none" stroke="#49c8d8" stroke-width="0.5" stroke-dasharray="0.8 1.6"/>
<rect x="124" y="400.9" width="9.2" height="9.2" rx="2.2" fill="none" stroke="#d86ad0" stroke-width="0.7" stroke-dasharray="1.3 1"/>
<rect x="123.2" y="400.1" width="10.8" height="10.8" rx="2.2" fill="none" stroke="#49c8d8" stroke-width="0.5" stroke-dasharray="0.8 1.6"/>
<rect x="105.8" y="419.1" width="9.2" height="9.2" rx="2.2" fill="none" stroke="#d86ad0" stroke-width="0.7" stroke-dasharray="1.3 1"/>
<rect x="105" y="418.3" width="10.8" height="10.8" rx="2.2" fill="none" stroke="#49c8d8" stroke-width="0.5" stroke-dasharray="0.8 1.6"/>
<rect x="124" y="419.1" width="9.2" height="9.2" rx="2.2" fill="none" stroke="#d86ad0" stroke-width="0.7" stroke-dasharray="1.3 1"/>
<rect x="123.2" y="418.3" width="10.8" height="10.8" rx="2.2" fill="none" stroke="#49c8d8" stroke-width="0.5" stroke-dasharray="0.8 1.6"/>
<circle cx="109.3" cy="404.9" r="9.2" fill="none" stroke="#f0201c" stroke-width="1.7" stroke-dasharray="3.2 1.5"/>
<path d="M105.5,403.6 l2.2,0 l-1.1,2.2 z" fill="#e0a020"/>
<path d="M130.5,403.8 l2.2,0 l-1.1,2.2 z" fill="#e0a020"/>
<path d="M118.5,410.8 l2.2,0 l-1.1,2.2 z" fill="#e0a020"/>
<path d="M111.3,421 l2.2,0 l-1.1,2.2 z" fill="#e0a020"/>
<path d="M128.7,420.2 l2.2,0 l-1.1,2.2 z" fill="#e0a020"/>
<path d="M128.7,413.5 l1.5,1.5 l-1.5,1.5 l-1.5,-1.5 z" fill="none" stroke="#8a8a60" stroke-width="0.5"/>
<path d="M119.6,422.1 l1.5,1.5 l-1.5,1.5 l-1.5,-1.5 z" fill="none" stroke="#8a8a60" stroke-width="0.5"/>
<path d="M110.4,413.7 l1.5,1.5 l-1.5,1.5 l-1.5,-1.5 z" fill="none" stroke="#8a8a60" stroke-width="0.5"/>
<path d="M119.6,403.9 l1.5,1.5 l-1.5,1.5 l-1.5,-1.5 z" fill="none" stroke="#8a8a60" stroke-width="0.5"/>
<rect x="150.2" y="431.5" width="39.4" height="1.8" fill="#fff" stroke="none" stroke-width="1"/>
<text x="172.6" y="429.2" font-size="7.5" font-weight="bold" text-anchor="middle" fill="#fff">500 nm</text>
</g>
<g clip-path="url(#c2)">
<rect x="204.2" y="365.5" width="96.6" height="70" fill="#2c2c2c" stroke="none" stroke-width="1"/>
<g filter="url(#soft)">
<polygon points="203.46,364.68 218.26,364.68 219.78,374.16 212.19,381.76 203.46,380.24" fill="#8e8e8e" stroke="#f2f2f2" stroke-width="2.5" stroke-linejoin="round"/>
<polygon points="203.46,364.68 218.26,364.68 219.78,374.16 212.19,381.76 203.46,380.24" fill="#8e8e8e" stroke="#8e8e8e" stroke-width="1.2" stroke-linejoin="round"/>
<polygon points="203.46,364.68 218.26,364.68 219.78,374.16 212.19,381.76 203.46,380.24" fill="url(#pg)"/>
<polygon points="219.25,364.49 232.54,364.49 233.29,373.98 222.67,377.01 220.01,372.08" fill="#b2b2b2" stroke="#f2f2f2" stroke-width="2.5" stroke-linejoin="round"/>
<polygon points="219.25,364.49 232.54,364.49 233.29,373.98 222.67,377.01 220.01,372.08" fill="#b2b2b2" stroke="#b2b2b2" stroke-width="1.2" stroke-linejoin="round"/>
<polygon points="219.25,364.49 232.54,364.49 233.29,373.98 222.67,377.01 220.01,372.08" fill="url(#pg)"/>
<polygon points="203.49,377.25 214.11,374.98 222.09,384.47 216.01,394.34 203.49,392.44" fill="#a9a9a9" stroke="#f2f2f2" stroke-width="2.5" stroke-linejoin="round"/>
<polygon points="203.49,377.25 214.11,374.98 222.09,384.47 216.01,394.34 203.49,392.44" fill="#a9a9a9" stroke="#a9a9a9" stroke-width="1.2" stroke-linejoin="round"/>
<polygon points="203.49,377.25 214.11,374.98 222.09,384.47 216.01,394.34 203.49,392.44" fill="url(#pg)"/>
<polygon points="233.2,368.65 246.87,370.55 245.73,381.18 236.24,382.32" fill="#888" stroke="#f2f2f2" stroke-width="2.5" stroke-linejoin="round"/>
<polygon points="233.2,368.65 246.87,370.55 245.73,381.18 236.24,382.32" fill="#888" stroke="#888" stroke-width="1.2" stroke-linejoin="round"/>
<polygon points="233.2,368.65 246.87,370.55 245.73,381.18 236.24,382.32" fill="url(#pg)"/>
<polygon points="261.71,365.35 271.58,368.01 273.48,375.98 265.89,378.26" fill="#8e8e8e" stroke="#f2f2f2" stroke-width="2.5" stroke-linejoin="round"/>
<polygon points="261.71,365.35 271.58,368.01 273.48,375.98 265.89,378.26" fill="#8e8e8e" stroke="#8e8e8e" stroke-width="1.2" stroke-linejoin="round"/>
<polygon points="261.71,365.35 271.58,368.01 273.48,375.98 265.89,378.26" fill="url(#pg)"/>
<polygon points="246.69,372.77 258.84,370.87 264.91,378.46 261.12,387.95 249.35,389.09 244.6,382.26" fill="#a8a8a8" stroke="#f2f2f2" stroke-width="2.5" stroke-linejoin="round"/>
<polygon points="246.69,372.77 258.84,370.87 264.91,378.46 261.12,387.95 249.35,389.09 244.6,382.26" fill="#a8a8a8" stroke="#a8a8a8" stroke-width="1.2" stroke-linejoin="round"/>
<polygon points="246.69,372.77 258.84,370.87 264.91,378.46 261.12,387.95 249.35,389.09 244.6,382.26" fill="url(#pg)"/>
<polygon points="222.17,386.92 234.5,384.07 240.58,390.71 237.54,400.58 225.01,400.58" fill="#8c8c8c" stroke="#f2f2f2" stroke-width="2.5" stroke-linejoin="round"/>
<polygon points="222.17,386.92 234.5,384.07 240.58,390.71 237.54,400.58 225.01,400.58" fill="#8c8c8c" stroke="#8c8c8c" stroke-width="1.2" stroke-linejoin="round"/>
<polygon points="222.17,386.92 234.5,384.07 240.58,390.71 237.54,400.58 225.01,400.58" fill="url(#pg)"/>
<polygon points="240.58,391.05 250.83,389.15 255.77,396.75 251.97,405.48 242.48,404.72" fill="#9a9a9a" stroke="#f2f2f2" stroke-width="2.5" stroke-linejoin="round"/>
<polygon points="240.58,391.05 250.83,389.15 255.77,396.75 251.97,405.48 242.48,404.72" fill="#9a9a9a" stroke="#9a9a9a" stroke-width="1.2" stroke-linejoin="round"/>
<polygon points="240.58,391.05 250.83,389.15 255.77,396.75 251.97,405.48 242.48,404.72" fill="url(#pg)"/>
<polygon points="255.7,383.02 268.98,382.07 272.02,392.51 265.57,401.24 255.7,396.68" fill="#a3a3a3" stroke="#f2f2f2" stroke-width="2.5" stroke-linejoin="round"/>
<polygon points="255.7,383.02 268.98,382.07 272.02,392.51 265.57,401.24 255.7,396.68" fill="#a3a3a3" stroke="#a3a3a3" stroke-width="1.2" stroke-linejoin="round"/>
<polygon points="255.7,383.02 268.98,382.07 272.02,392.51 265.57,401.24 255.7,396.68" fill="url(#pg)"/>
<polygon points="255.56,403.19 266.95,401.3 269.99,410.79 261.26,414.96 254.61,410.79" fill="#a9a9a9" stroke="#f2f2f2" stroke-width="2.5" stroke-linejoin="round"/>
<polygon points="255.56,403.19 266.95,401.3 269.99,410.79 261.26,414.96 254.61,410.79" fill="#a9a9a9" stroke="#a9a9a9" stroke-width="1.2" stroke-linejoin="round"/>
<polygon points="255.56,403.19 266.95,401.3 269.99,410.79 261.26,414.96 254.61,410.79" fill="url(#pg)"/>
<polygon points="253.67,415.64 265.06,413.75 269.99,423.24 265.44,433.11 254.62,431.21" fill="#9c9c9c" stroke="#f2f2f2" stroke-width="2.5" stroke-linejoin="round"/>
<polygon points="253.67,415.64 265.06,413.75 269.99,423.24 265.44,433.11 254.62,431.21" fill="#9c9c9c" stroke="#9c9c9c" stroke-width="1.2" stroke-linejoin="round"/>
<polygon points="253.67,415.64 265.06,413.75 269.99,423.24 265.44,433.11 254.62,431.21" fill="url(#pg)"/>
<polygon points="272.4,406.34 281.89,402.54 285.69,406.34 295.18,407.29 298.22,414.88 293.28,422.47 281.89,422.85 274.3,417.16" fill="#a0a0a0" stroke="#f2f2f2" stroke-width="2.5" stroke-linejoin="round"/>
<polygon points="272.4,406.34 281.89,402.54 285.69,406.34 295.18,407.29 298.22,414.88 293.28,422.47 281.89,422.85 274.3,417.16" fill="#a0a0a0" stroke="#a0a0a0" stroke-width="1.2" stroke-linejoin="round"/>
<polygon points="272.4,406.34 281.89,402.54 285.69,406.34 295.18,407.29 298.22,414.88 293.28,422.47 281.89,422.85 274.3,417.16" fill="url(#pg)"/>
<polygon points="203.16,393.42 212.27,394.94 210.38,403.29 203.16,403.29" fill="#8a8a8a" stroke="#f2f2f2" stroke-width="2.5" stroke-linejoin="round"/>
<polygon points="203.16,393.42 212.27,394.94 210.38,403.29 203.16,403.29" fill="#8a8a8a" stroke="#8a8a8a" stroke-width="1.2" stroke-linejoin="round"/>
<polygon points="203.16,393.42 212.27,394.94 210.38,403.29 203.16,403.29" fill="url(#pg)"/>
<polygon points="246.43,423.66 254.02,421.76 255.16,436.19 246.43,436.19" fill="#777" stroke="#f2f2f2" stroke-width="2.5" stroke-linejoin="round"/>
<polygon points="246.43,423.66 254.02,421.76 255.16,436.19 246.43,436.19" fill="#777" stroke="#777" stroke-width="1.2" stroke-linejoin="round"/>
<polygon points="246.43,423.66 254.02,421.76 255.16,436.19 246.43,436.19" fill="url(#pg)"/>
<polygon points="212.67,382.89 222.16,385.17 222.16,394.28 216.47,395.04" fill="#7a7a7a" stroke="#f2f2f2" stroke-width="2.5" stroke-linejoin="round"/>
<polygon points="212.67,382.89 222.16,385.17 222.16,394.28 216.47,395.04" fill="#7a7a7a" stroke="#7a7a7a" stroke-width="1.2" stroke-linejoin="round"/>
<polygon points="212.67,382.89 222.16,385.17 222.16,394.28 216.47,395.04" fill="url(#pg)"/>
</g>
<circle cx="226.4" cy="418.6" r="23.5" fill="#c6f5f6"/>
<rect x="213.9" y="401.7" width="9.2" height="9.2" rx="2.2" fill="none" stroke="#d86ad0" stroke-width="0.7" stroke-dasharray="1.3 1"/>
<rect x="213.1" y="400.9" width="10.8" height="10.8" rx="2.2" fill="none" stroke="#49c8d8" stroke-width="0.5" stroke-dasharray="0.8 1.6"/>
<rect x="232.1" y="401.7" width="9.2" height="9.2" rx="2.2" fill="none" stroke="#d86ad0" stroke-width="0.7" stroke-dasharray="1.3 1"/>
<rect x="231.3" y="400.9" width="10.8" height="10.8" rx="2.2" fill="none" stroke="#49c8d8" stroke-width="0.5" stroke-dasharray="0.8 1.6"/>
<rect x="213.9" y="419.9" width="9.2" height="9.2" rx="2.2" fill="none" stroke="#d86ad0" stroke-width="0.7" stroke-dasharray="1.3 1"/>
<rect x="213.1" y="419.1" width="10.8" height="10.8" rx="2.2" fill="none" stroke="#49c8d8" stroke-width="0.5" stroke-dasharray="0.8 1.6"/>
<rect x="232.1" y="419.9" width="9.2" height="9.2" rx="2.2" fill="none" stroke="#d86ad0" stroke-width="0.7" stroke-dasharray="1.3 1"/>
<rect x="231.3" y="419.1" width="10.8" height="10.8" rx="2.2" fill="none" stroke="#49c8d8" stroke-width="0.5" stroke-dasharray="0.8 1.6"/>
<circle cx="217.3" cy="405.8" r="9.2" fill="none" stroke="#f0201c" stroke-width="1.7" stroke-dasharray="3.2 1.5"/>
<circle cx="239.6" cy="404.2" r="1.1" fill="#e07818"/>
<path d="M236.8,414.1 l1.5,1.5 l-1.5,1.5 l-1.5,-1.5 z" fill="none" stroke="#8a8a60" stroke-width="0.5"/>
<path d="M227.6,423.1 l1.5,1.5 l-1.5,1.5 l-1.5,-1.5 z" fill="none" stroke="#8a8a60" stroke-width="0.5"/>
<path d="M218.4,414.3 l1.5,1.5 l-1.5,1.5 l-1.5,-1.5 z" fill="none" stroke="#8a8a60" stroke-width="0.5"/>
<path d="M227.6,404.7 l1.5,1.5 l-1.5,1.5 l-1.5,-1.5 z" fill="none" stroke="#8a8a60" stroke-width="0.5"/>
<rect x="267.4" y="431.5" width="32.8" height="1.8" fill="#fff" stroke="none" stroke-width="1"/>
<text x="284.6" y="428.6" font-size="7.5" font-weight="bold" text-anchor="middle" fill="#fff">500 nm</text>
</g>
<g clip-path="url(#c3)">
<rect x="314" y="365.5" width="94" height="69.6" fill="url(#tg)" stroke="none" stroke-width="1"/>
<g filter="url(#soft2)">
<ellipse cx="345.5" cy="381" rx="9" ry="8" fill="#c4c4c4" opacity="0.75"/>
<ellipse cx="359" cy="390" rx="10" ry="8" fill="#c0c0c0" opacity="0.65"/>
<ellipse cx="374" cy="376" rx="10" ry="7" fill="#b4b4b4" opacity="0.6"/>
<ellipse cx="369" cy="403" rx="10" ry="8" fill="#b8b8b8" opacity="0.55"/>
<ellipse cx="322" cy="432" rx="16" ry="10" fill="#2c2c2c" opacity="0.75"/>
<ellipse cx="316" cy="376" rx="7" ry="16" fill="#2a2a2a" opacity="0.7"/>
<ellipse cx="352" cy="405" rx="9" ry="10" fill="#9c9c9c" opacity="0.4"/>
<ellipse cx="396" cy="422" rx="12" ry="9" fill="#9a9a9a" opacity="0.4"/>
<ellipse cx="331" cy="398" rx="7" ry="8" fill="#a0a0a0" opacity="0.45"/>
<ellipse cx="336" cy="368" rx="16" ry="5" fill="#3a3a3a" opacity="0.5"/>
<ellipse cx="348" cy="432" rx="14" ry="6" fill="#5a5a5a" opacity="0.5"/>
<ellipse cx="402" cy="384" rx="8" ry="14" fill="#7a7a7a" opacity="0.45"/>
<ellipse cx="318" cy="405" rx="5" ry="14" fill="#333" opacity="0.55"/>
</g>
<rect x="314" y="365.5" width="94" height="69.6" fill="#000" stroke="none" stroke-width="1" filter="url(#nzd)" opacity="0.32"/>
<rect x="314" y="365.5" width="94" height="69.6" fill="#fff" stroke="none" stroke-width="1" filter="url(#nzl)" opacity="0.28"/>
<rect x="314" y="365.5" width="94" height="69.6" fill="url(#fr)" stroke="none" stroke-width="1"/>
<rect x="314" y="365.5" width="94" height="69.6" fill="url(#dots)" stroke="none" stroke-width="1"/>
<ellipse cx="327.8" cy="405.5" rx="12.9" ry="10.6" fill="none" stroke="#f0201c" stroke-width="1.5" stroke-dasharray="3 1.5"/>
<rect x="380.4" y="429.8" width="21.2" height="2.1" fill="#0a0a0a" stroke="none" stroke-width="1"/>
<text x="390.8" y="427.8" font-size="7.5" font-weight="bold" text-anchor="middle" fill="#0a0a0a">2 nm</text>
</g>
<text x="144.4" y="449.3" font-size="8.2" font-weight="normal" text-anchor="middle" fill="#f0201c">MIL-125(Ti<tspan dy="0.34em" font-size="65%">v</tspan><tspan dy="-0.22em" font-size="100%">&#8203;</tspan>)</text>
<text x="255.4" y="449.3" font-size="8.2" font-weight="normal" text-anchor="middle" fill="#f0201c">Cu-MIL-125(Ti<tspan dy="0.34em" font-size="65%">v</tspan><tspan dy="-0.22em" font-size="100%">&#8203;</tspan>)</text>
<text x="364.6" y="449.3" font-size="8.2" font-weight="normal" text-anchor="middle" fill="#f0201c">CuSA-TiO<tspan dy="0.34em" font-size="65%">2</tspan><tspan dy="-0.22em" font-size="100%">&#8203;</tspan></text>
<line x1="175.4" y1="446.6" x2="216.6" y2="446.6" stroke="#3a78d8" stroke-width="1.1"/>
<path d="M214.8,444.8 L218.6,446.6 L214.8,448.4 Z" fill="#3a78d8"/>
<line x1="294.8" y1="446.6" x2="335.2" y2="446.6" stroke="#3a78d8" stroke-width="1.1"/>
<path d="M333.4,444.8 L337.2,446.6 L333.4,448.4 Z" fill="#3a78d8"/>
<text x="197.6" y="457.6" font-size="8" font-weight="normal" text-anchor="middle" fill="#3a78d8">Cu<tspan dy="-0.61em" font-size="62%">2+</tspan><tspan dy="0.38em" font-size="100%">&#8203;</tspan> binding</text>
<text x="315" y="457.6" font-size="8.1" font-weight="normal" text-anchor="middle" fill="#3a78d8" font-family="&quot;Liberation Sans&quot;, &quot;Noto Sans CJK SC&quot;, sans-serif">450℃ sintering</text>
<ellipse cx="142.3" cy="491.8" rx="46.8" ry="40.5" fill="#c6f5f6"/>
<g clip-path="url(#ce142)">
<polyline points="133.18,474.47 134.16,466.63 139.06,462.71 144.55,466.63 145.92,474.47" fill="none" stroke="#d6bc62" stroke-width="0.8" stroke-linejoin="round"/>
<polyline points="139.06,462.71 139.06,456.82 133.57,453.88" fill="none" stroke="#d6bc62" stroke-width="0.8" stroke-linejoin="round"/>
<polyline points="139.06,456.82 144.94,453.88" fill="none" stroke="#d6bc62" stroke-width="0.8" stroke-linejoin="round"/>
<polyline points="157.69,485.25 165.53,487.22 170.04,491.53 166.51,495.84 157.69,498" fill="none" stroke="#d6bc62" stroke-width="0.8" stroke-linejoin="round"/>
<polyline points="170.04,491.53 177.1,491.53" fill="none" stroke="#d6bc62" stroke-width="0.8" stroke-linejoin="round"/>
<polyline points="145.92,508.39 144.55,516.63 139.06,519.57 134.16,516.63 133.18,508.39" fill="none" stroke="#d6bc62" stroke-width="0.8" stroke-linejoin="round"/>
<polyline points="139.06,519.57 139.06,524.86" fill="none" stroke="#d6bc62" stroke-width="0.8" stroke-linejoin="round"/>
<polyline points="121.8,497.41 113.96,496.24 111.61,491.53 113.18,487.22 121.8,485.84" fill="none" stroke="#d6bc62" stroke-width="0.8" stroke-linejoin="round"/>
<polyline points="111.61,491.53 105.33,491.53 99.84,486.24" fill="none" stroke="#d6bc62" stroke-width="0.8" stroke-linejoin="round"/>
<polyline points="105.33,491.53 100.82,496.63" fill="none" stroke="#d6bc62" stroke-width="0.8" stroke-linejoin="round"/>
<polyline points="133.18,474.47 139.45,477.41 145.92,474.47" fill="none" stroke="#d6bc62" stroke-width="0.8" stroke-linejoin="round"/>
<polyline points="145.92,474.47 149.25,482.31 157.69,485.25" fill="none" stroke="#d6bc62" stroke-width="0.8" stroke-linejoin="round"/>
<polyline points="157.69,485.25 160.63,491.53 157.69,498" fill="none" stroke="#d6bc62" stroke-width="0.8" stroke-linejoin="round"/>
<polyline points="157.69,498 149.25,500.35 145.92,508.39" fill="none" stroke="#d6bc62" stroke-width="0.8" stroke-linejoin="round"/>
<polyline points="145.92,508.39 139.65,511.14 133.18,508.39" fill="none" stroke="#d6bc62" stroke-width="0.8" stroke-linejoin="round"/>
<polyline points="133.18,508.39 128.67,501.92 121.8,497.41" fill="none" stroke="#d6bc62" stroke-width="0.8" stroke-linejoin="round"/>
<polyline points="121.8,497.41 119.45,491.53 121.8,485.84" fill="none" stroke="#d6bc62" stroke-width="0.8" stroke-linejoin="round"/>
<polyline points="121.8,485.84 130.63,482.31 133.18,474.47" fill="none" stroke="#d6bc62" stroke-width="0.8" stroke-linejoin="round"/>
<polyline points="145.92,474.47 152.39,473.1 156.71,477.41 157.69,485.25" fill="none" stroke="#d6bc62" stroke-width="0.8" stroke-linejoin="round"/>
<polyline points="157.69,498 159.45,506.43 154.35,506.82 145.92,508.39" fill="none" stroke="#d6bc62" stroke-width="0.8" stroke-linejoin="round"/>
<polyline points="133.18,508.39 124.55,509.18 120.04,504.27 121.8,497.41" fill="none" stroke="#d6bc62" stroke-width="0.8" stroke-linejoin="round"/>
<polyline points="121.8,485.84 121.41,479.37 126.51,473.49 133.18,474.47" fill="none" stroke="#d6bc62" stroke-width="0.8" stroke-linejoin="round"/>
<polyline points="154.35,506.82 156.71,515.65 160.63,510.75 165.73,513.69 163.76,518.98 158.67,520.16 156.71,515.65" fill="none" stroke="#d6bc62" stroke-width="0.8" stroke-linejoin="round"/>
<polyline points="165.73,513.69 170.82,512.71 176.31,515.65 181.22,511.14 178.67,506.82" fill="none" stroke="#d6bc62" stroke-width="0.8" stroke-linejoin="round"/>
<polyline points="163.76,518.98 169.25,521.33 164.55,526.04 159.65,528.78 155.14,526.82" fill="none" stroke="#d6bc62" stroke-width="0.8" stroke-linejoin="round"/>
<polyline points="176.31,515.65 172.78,524.86 164.55,526.04" fill="none" stroke="#d6bc62" stroke-width="0.8" stroke-linejoin="round"/>
<polyline points="176.31,515.65 184.16,520.94" fill="none" stroke="#d6bc62" stroke-width="0.8" stroke-linejoin="round"/>
<polyline points="164.55,526.04 166.51,534.27" fill="none" stroke="#d6bc62" stroke-width="0.8" stroke-linejoin="round"/>
<circle cx="182.59" cy="491.53" r="5.3" fill="none" stroke="#d6bc62" stroke-width="0.8"/>
<circle cx="139.06" cy="529.96" r="5.3" fill="none" stroke="#d6bc62" stroke-width="0.8"/>
<circle cx="134.16" cy="466.63" r="1.3" fill="url(#g_cy)"/>
<circle cx="144.55" cy="466.63" r="1.3" fill="url(#g_cy)"/>
<circle cx="165.53" cy="487.22" r="1.3" fill="url(#g_cy)"/>
<circle cx="166.51" cy="495.84" r="1.3" fill="url(#g_cy)"/>
<circle cx="144.55" cy="516.63" r="1.3" fill="url(#g_cy)"/>
<circle cx="134.16" cy="516.63" r="1.3" fill="url(#g_cy)"/>
<circle cx="113.96" cy="496.24" r="1.3" fill="url(#g_cy)"/>
<circle cx="113.18" cy="487.22" r="1.3" fill="url(#g_cy)"/>
<circle cx="139.45" cy="477.41" r="1.3" fill="url(#g_cy)"/>
<circle cx="149.25" cy="482.31" r="1.3" fill="url(#g_cy)"/>
<circle cx="149.25" cy="500.35" r="1.3" fill="url(#g_cy)"/>
<circle cx="128.67" cy="501.92" r="1.3" fill="url(#g_cy)"/>
<circle cx="130.63" cy="482.31" r="1.3" fill="url(#g_cy)"/>
<circle cx="152.39" cy="473.1" r="1.3" fill="url(#g_cy)"/>
<circle cx="156.71" cy="477.41" r="1.3" fill="url(#g_cy)"/>
<circle cx="159.45" cy="506.43" r="1.3" fill="url(#g_cy)"/>
<circle cx="154.35" cy="506.82" r="1.3" fill="url(#g_cy)"/>
<circle cx="124.55" cy="509.18" r="1.3" fill="url(#g_cy)"/>
<circle cx="120.04" cy="504.27" r="1.3" fill="url(#g_cy)"/>
<circle cx="121.41" cy="479.37" r="1.3" fill="url(#g_cy)"/>
<circle cx="126.51" cy="473.49" r="1.3" fill="url(#g_cy)"/>
<circle cx="170.82" cy="512.71" r="1.3" fill="url(#g_cy)"/>
<circle cx="181.22" cy="511.14" r="1.3" fill="url(#g_cy)"/>
<circle cx="169.25" cy="521.33" r="1.3" fill="url(#g_cy)"/>
<circle cx="159.65" cy="528.78" r="1.3" fill="url(#g_cy)"/>
<circle cx="172.78" cy="524.86" r="1.3" fill="url(#g_cy)"/>
<circle cx="139.06" cy="491.53" r="1.3" fill="url(#g_cy)"/>
<circle cx="160.04" cy="489.57" r="0.85" fill="url(#g_cy)"/>
<circle cx="160.04" cy="493.69" r="0.85" fill="url(#g_cy)"/>
<circle cx="162.2" cy="491.53" r="0.85" fill="url(#g_cy)"/>
<circle cx="136.71" cy="511.14" r="0.85" fill="url(#g_cy)"/>
<circle cx="139.65" cy="511.73" r="0.85" fill="url(#g_cy)"/>
<circle cx="142.59" cy="511.14" r="0.85" fill="url(#g_cy)"/>
<circle cx="119.45" cy="491.53" r="0.85" fill="url(#g_cy)"/>
<circle cx="139.06" cy="462.71" r="1.3" fill="url(#g_blk)"/>
<circle cx="139.06" cy="456.82" r="1.3" fill="url(#g_blk)"/>
<circle cx="133.57" cy="453.88" r="1.3" fill="url(#g_blk)"/>
<circle cx="144.94" cy="453.88" r="1.3" fill="url(#g_blk)"/>
<circle cx="170.04" cy="491.53" r="1.3" fill="url(#g_blk)"/>
<circle cx="173.57" cy="491.53" r="1.3" fill="url(#g_blk)"/>
<circle cx="139.06" cy="519.57" r="1.3" fill="url(#g_blk)"/>
<circle cx="139.06" cy="524.08" r="1.3" fill="url(#g_blk)"/>
<circle cx="111.61" cy="491.53" r="1.3" fill="url(#g_blk)"/>
<circle cx="105.33" cy="491.53" r="1.3" fill="url(#g_blk)"/>
<circle cx="99.84" cy="486.24" r="1.3" fill="url(#g_blk)"/>
<circle cx="100.82" cy="496.63" r="1.3" fill="url(#g_blk)"/>
<circle cx="156.71" cy="515.65" r="1.3" fill="url(#g_blk)"/>
<circle cx="160.63" cy="510.75" r="1.3" fill="url(#g_blk)"/>
<circle cx="165.73" cy="513.69" r="1.3" fill="url(#g_blk)"/>
<circle cx="163.76" cy="518.98" r="1.3" fill="url(#g_blk)"/>
<circle cx="158.67" cy="520.16" r="1.3" fill="url(#g_blk)"/>
<circle cx="178.67" cy="506.82" r="1.3" fill="url(#g_blk)"/>
<circle cx="155.14" cy="526.82" r="1.3" fill="url(#g_blk)"/>
<circle cx="184.16" cy="520.94" r="1.3" fill="url(#g_blk)"/>
<circle cx="187.65" cy="493.1" r="1.25" fill="url(#g_blk)"/>
<circle cx="185.76" cy="495.77" r="1.25" fill="url(#g_blk)"/>
<circle cx="182.66" cy="496.83" r="1.25" fill="url(#g_blk)"/>
<circle cx="179.53" cy="495.86" r="1.25" fill="url(#g_blk)"/>
<circle cx="177.57" cy="493.24" r="1.25" fill="url(#g_blk)"/>
<circle cx="177.52" cy="489.96" r="1.25" fill="url(#g_blk)"/>
<circle cx="179.41" cy="487.29" r="1.25" fill="url(#g_blk)"/>
<circle cx="182.51" cy="486.23" r="1.25" fill="url(#g_blk)"/>
<circle cx="185.64" cy="487.2" r="1.25" fill="url(#g_blk)"/>
<circle cx="187.61" cy="489.82" r="1.25" fill="url(#g_blk)"/>
<circle cx="144.12" cy="531.53" r="1.25" fill="url(#g_blk)"/>
<circle cx="142.23" cy="534.2" r="1.25" fill="url(#g_blk)"/>
<circle cx="139.13" cy="535.26" r="1.25" fill="url(#g_blk)"/>
<circle cx="136" cy="534.29" r="1.25" fill="url(#g_blk)"/>
<circle cx="134.04" cy="531.67" r="1.25" fill="url(#g_blk)"/>
<circle cx="134" cy="528.39" r="1.25" fill="url(#g_blk)"/>
<circle cx="135.88" cy="525.72" r="1.25" fill="url(#g_blk)"/>
<circle cx="138.98" cy="524.66" r="1.25" fill="url(#g_blk)"/>
<circle cx="142.11" cy="525.63" r="1.25" fill="url(#g_blk)"/>
<circle cx="144.08" cy="528.25" r="1.25" fill="url(#g_blk)"/>
<circle cx="133.18" cy="474.47" r="2.15" fill="url(#g_mag)"/>
<circle cx="145.92" cy="474.47" r="2.15" fill="url(#g_mag)"/>
<circle cx="157.69" cy="485.25" r="2.15" fill="url(#g_mag)"/>
<circle cx="157.69" cy="498" r="2.15" fill="url(#g_mag)"/>
<circle cx="145.92" cy="508.39" r="2.15" fill="url(#g_mag)"/>
<circle cx="133.18" cy="508.39" r="2.15" fill="url(#g_mag)"/>
<circle cx="121.8" cy="497.41" r="2.15" fill="url(#g_mag)"/>
<circle cx="176.31" cy="515.65" r="2.15" fill="url(#g_mag)"/>
<circle cx="164.55" cy="526.04" r="2.15" fill="url(#g_mag)"/>
<ellipse cx="121.8" cy="485.84" rx="5.3" ry="4.7" fill="#8cc63f" stroke="#e0402a" stroke-width="0.6" stroke-dasharray="1.2 0.8"/>
</g>
<ellipse cx="142.3" cy="491.8" rx="46.8" ry="40.5" fill="none" stroke="#f0201c" stroke-width="1.2" stroke-dasharray="2.6 1.5"/>
<ellipse cx="257" cy="492.2" rx="47.2" ry="40.6" fill="#c6f5f6"/>
<g clip-path="url(#ce257)">
<polyline points="244.38,475.47 245.36,467.63 250.26,463.71 255.75,467.63 257.12,475.47" fill="none" stroke="#d6bc62" stroke-width="0.8" stroke-linejoin="round"/>
<polyline points="250.26,463.71 250.26,457.82 244.77,454.88" fill="none" stroke="#d6bc62" stroke-width="0.8" stroke-linejoin="round"/>
<polyline points="250.26,457.82 256.14,454.88" fill="none" stroke="#d6bc62" stroke-width="0.8" stroke-linejoin="round"/>
<polyline points="268.89,486.25 278.23,488.22 284.12,492.53 279.51,496.84 268.89,499" fill="none" stroke="#d6bc62" stroke-width="0.8" stroke-linejoin="round"/>
<polyline points="284.12,492.53 291.9,492.53" fill="none" stroke="#d6bc62" stroke-width="0.8" stroke-linejoin="round"/>
<polyline points="257.12,509.39 255.75,517.63 250.26,520.57 245.36,517.63 244.38,509.39" fill="none" stroke="#d6bc62" stroke-width="0.8" stroke-linejoin="round"/>
<polyline points="250.26,520.57 250.26,525.86" fill="none" stroke="#d6bc62" stroke-width="0.8" stroke-linejoin="round"/>
<polyline points="233,498.41 225.16,497.24 222.81,492.53 224.38,488.22 233,486.84" fill="none" stroke="#d6bc62" stroke-width="0.8" stroke-linejoin="round"/>
<polyline points="222.81,492.53 216.53,492.53 211.04,487.24" fill="none" stroke="#d6bc62" stroke-width="0.8" stroke-linejoin="round"/>
<polyline points="216.53,492.53 212.02,497.63" fill="none" stroke="#d6bc62" stroke-width="0.8" stroke-linejoin="round"/>
<polyline points="244.38,475.47 250.65,478.41 257.12,475.47" fill="none" stroke="#d6bc62" stroke-width="0.8" stroke-linejoin="round"/>
<polyline points="257.12,475.47 260.45,483.31 268.89,486.25" fill="none" stroke="#d6bc62" stroke-width="0.8" stroke-linejoin="round"/>
<polyline points="268.89,486.25 271.83,492.53 268.89,499" fill="none" stroke="#d6bc62" stroke-width="0.8" stroke-linejoin="round"/>
<polyline points="268.89,499 260.45,501.35 257.12,509.39" fill="none" stroke="#d6bc62" stroke-width="0.8" stroke-linejoin="round"/>
<polyline points="257.12,509.39 250.85,512.14 244.38,509.39" fill="none" stroke="#d6bc62" stroke-width="0.8" stroke-linejoin="round"/>
<polyline points="244.38,509.39 239.87,502.92 233,498.41" fill="none" stroke="#d6bc62" stroke-width="0.8" stroke-linejoin="round"/>
<polyline points="233,498.41 230.65,492.53 233,486.84" fill="none" stroke="#d6bc62" stroke-width="0.8" stroke-linejoin="round"/>
<polyline points="233,486.84 241.83,483.31 244.38,475.47" fill="none" stroke="#d6bc62" stroke-width="0.8" stroke-linejoin="round"/>
<polyline points="257.12,475.47 263.59,474.1 267.91,478.41 268.89,486.25" fill="none" stroke="#d6bc62" stroke-width="0.8" stroke-linejoin="round"/>
<polyline points="268.89,499 270.65,507.43 265.55,507.82 257.12,509.39" fill="none" stroke="#d6bc62" stroke-width="0.8" stroke-linejoin="round"/>
<polyline points="244.38,509.39 235.75,510.18 231.24,505.27 233,498.41" fill="none" stroke="#d6bc62" stroke-width="0.8" stroke-linejoin="round"/>
<polyline points="233,486.84 232.61,480.37 237.71,474.49 244.38,475.47" fill="none" stroke="#d6bc62" stroke-width="0.8" stroke-linejoin="round"/>
<polyline points="265.55,507.82 267.91,516.65 271.83,511.75 278.49,514.69 275.92,519.98 269.87,521.16 267.91,516.65" fill="none" stroke="#d6bc62" stroke-width="0.8" stroke-linejoin="round"/>
<polyline points="278.49,514.69 285.14,513.71 291.11,516.65 296.02,512.14 293.47,507.82" fill="none" stroke="#d6bc62" stroke-width="0.8" stroke-linejoin="round"/>
<polyline points="275.92,519.98 283.09,522.33 276.95,527.04 270.85,529.78 266.34,527.82" fill="none" stroke="#d6bc62" stroke-width="0.8" stroke-linejoin="round"/>
<polyline points="291.11,516.65 287.58,525.86 276.95,527.04" fill="none" stroke="#d6bc62" stroke-width="0.8" stroke-linejoin="round"/>
<polyline points="291.11,516.65 298.96,521.94" fill="none" stroke="#d6bc62" stroke-width="0.8" stroke-linejoin="round"/>
<polyline points="276.95,527.04 279.51,535.27" fill="none" stroke="#d6bc62" stroke-width="0.8" stroke-linejoin="round"/>
<circle cx="297.39" cy="492.53" r="5.3" fill="none" stroke="#d6bc62" stroke-width="0.8"/>
<circle cx="250.26" cy="530.96" r="5.3" fill="none" stroke="#d6bc62" stroke-width="0.8"/>
<circle cx="245.36" cy="467.63" r="1.3" fill="url(#g_cy)"/>
<circle cx="255.75" cy="467.63" r="1.3" fill="url(#g_cy)"/>
<circle cx="278.23" cy="488.22" r="1.3" fill="url(#g_cy)"/>
<circle cx="279.51" cy="496.84" r="1.3" fill="url(#g_cy)"/>
<circle cx="255.75" cy="517.63" r="1.3" fill="url(#g_cy)"/>
<circle cx="245.36" cy="517.63" r="1.3" fill="url(#g_cy)"/>
<circle cx="225.16" cy="497.24" r="1.3" fill="url(#g_cy)"/>
<circle cx="224.38" cy="488.22" r="1.3" fill="url(#g_cy)"/>
<circle cx="250.65" cy="478.41" r="1.3" fill="url(#g_cy)"/>
<circle cx="260.45" cy="483.31" r="1.3" fill="url(#g_cy)"/>
<circle cx="260.45" cy="501.35" r="1.3" fill="url(#g_cy)"/>
<circle cx="239.87" cy="502.92" r="1.3" fill="url(#g_cy)"/>
<circle cx="241.83" cy="483.31" r="1.3" fill="url(#g_cy)"/>
<circle cx="263.59" cy="474.1" r="1.3" fill="url(#g_cy)"/>
<circle cx="267.91" cy="478.41" r="1.3" fill="url(#g_cy)"/>
<circle cx="270.65" cy="507.43" r="1.3" fill="url(#g_cy)"/>
<circle cx="265.55" cy="507.82" r="1.3" fill="url(#g_cy)"/>
<circle cx="235.75" cy="510.18" r="1.3" fill="url(#g_cy)"/>
<circle cx="231.24" cy="505.27" r="1.3" fill="url(#g_cy)"/>
<circle cx="232.61" cy="480.37" r="1.3" fill="url(#g_cy)"/>
<circle cx="237.71" cy="474.49" r="1.3" fill="url(#g_cy)"/>
<circle cx="285.14" cy="513.71" r="1.3" fill="url(#g_cy)"/>
<circle cx="296.02" cy="512.14" r="1.3" fill="url(#g_cy)"/>
<circle cx="283.09" cy="522.33" r="1.3" fill="url(#g_cy)"/>
<circle cx="270.85" cy="529.78" r="1.3" fill="url(#g_cy)"/>
<circle cx="287.58" cy="525.86" r="1.3" fill="url(#g_cy)"/>
<circle cx="250.26" cy="492.53" r="1.3" fill="url(#g_cy)"/>
<circle cx="271.24" cy="490.57" r="0.85" fill="url(#g_cy)"/>
<circle cx="271.24" cy="494.69" r="0.85" fill="url(#g_cy)"/>
<circle cx="273.88" cy="492.53" r="0.85" fill="url(#g_cy)"/>
<circle cx="247.91" cy="512.14" r="0.85" fill="url(#g_cy)"/>
<circle cx="250.85" cy="512.73" r="0.85" fill="url(#g_cy)"/>
<circle cx="253.79" cy="512.14" r="0.85" fill="url(#g_cy)"/>
<circle cx="230.65" cy="492.53" r="0.85" fill="url(#g_cy)"/>
<circle cx="250.26" cy="463.71" r="1.3" fill="url(#g_blk)"/>
<circle cx="250.26" cy="457.82" r="1.3" fill="url(#g_blk)"/>
<circle cx="244.77" cy="454.88" r="1.3" fill="url(#g_blk)"/>
<circle cx="256.14" cy="454.88" r="1.3" fill="url(#g_blk)"/>
<circle cx="284.12" cy="492.53" r="1.3" fill="url(#g_blk)"/>
<circle cx="288.37" cy="492.53" r="1.3" fill="url(#g_blk)"/>
<circle cx="250.26" cy="520.57" r="1.3" fill="url(#g_blk)"/>
<circle cx="250.26" cy="525.08" r="1.3" fill="url(#g_blk)"/>
<circle cx="222.81" cy="492.53" r="1.3" fill="url(#g_blk)"/>
<circle cx="216.53" cy="492.53" r="1.3" fill="url(#g_blk)"/>
<circle cx="211.04" cy="487.24" r="1.3" fill="url(#g_blk)"/>
<circle cx="212.02" cy="497.63" r="1.3" fill="url(#g_blk)"/>
<circle cx="267.91" cy="516.65" r="1.3" fill="url(#g_blk)"/>
<circle cx="271.83" cy="511.75" r="1.3" fill="url(#g_blk)"/>
<circle cx="278.49" cy="514.69" r="1.3" fill="url(#g_blk)"/>
<circle cx="275.92" cy="519.98" r="1.3" fill="url(#g_blk)"/>
<circle cx="269.87" cy="521.16" r="1.3" fill="url(#g_blk)"/>
<circle cx="293.47" cy="507.82" r="1.3" fill="url(#g_blk)"/>
<circle cx="266.34" cy="527.82" r="1.3" fill="url(#g_blk)"/>
<circle cx="298.96" cy="521.94" r="1.3" fill="url(#g_blk)"/>
<circle cx="302.45" cy="494.1" r="1.25" fill="url(#g_blk)"/>
<circle cx="300.56" cy="496.77" r="1.25" fill="url(#g_blk)"/>
<circle cx="297.46" cy="497.83" r="1.25" fill="url(#g_blk)"/>
<circle cx="294.33" cy="496.86" r="1.25" fill="url(#g_blk)"/>
<circle cx="292.37" cy="494.24" r="1.25" fill="url(#g_blk)"/>
<circle cx="292.32" cy="490.96" r="1.25" fill="url(#g_blk)"/>
<circle cx="294.21" cy="488.29" r="1.25" fill="url(#g_blk)"/>
<circle cx="297.31" cy="487.23" r="1.25" fill="url(#g_blk)"/>
<circle cx="300.44" cy="488.2" r="1.25" fill="url(#g_blk)"/>
<circle cx="302.41" cy="490.82" r="1.25" fill="url(#g_blk)"/>
<circle cx="255.32" cy="532.53" r="1.25" fill="url(#g_blk)"/>
<circle cx="253.43" cy="535.2" r="1.25" fill="url(#g_blk)"/>
<circle cx="250.33" cy="536.26" r="1.25" fill="url(#g_blk)"/>
<circle cx="247.2" cy="535.29" r="1.25" fill="url(#g_blk)"/>
<circle cx="245.24" cy="532.67" r="1.25" fill="url(#g_blk)"/>
<circle cx="245.2" cy="529.39" r="1.25" fill="url(#g_blk)"/>
<circle cx="247.08" cy="526.72" r="1.25" fill="url(#g_blk)"/>
<circle cx="250.18" cy="525.66" r="1.25" fill="url(#g_blk)"/>
<circle cx="253.31" cy="526.63" r="1.25" fill="url(#g_blk)"/>
<circle cx="255.28" cy="529.25" r="1.25" fill="url(#g_blk)"/>
<circle cx="244.38" cy="475.47" r="2.15" fill="url(#g_mag)"/>
<circle cx="257.12" cy="475.47" r="2.15" fill="url(#g_mag)"/>
<circle cx="268.89" cy="486.25" r="2.15" fill="url(#g_mag)"/>
<circle cx="268.89" cy="499" r="2.15" fill="url(#g_mag)"/>
<circle cx="257.12" cy="509.39" r="2.15" fill="url(#g_mag)"/>
<circle cx="244.38" cy="509.39" r="2.15" fill="url(#g_mag)"/>
<circle cx="233" cy="498.41" r="2.15" fill="url(#g_mag)"/>
<circle cx="291.11" cy="516.65" r="2.15" fill="url(#g_mag)"/>
<circle cx="276.95" cy="527.04" r="2.15" fill="url(#g_mag)"/>
<circle cx="233" cy="486.84" r="2.2" fill="url(#g_yel)"/>
</g>
<ellipse cx="257" cy="492.2" rx="47.2" ry="40.6" fill="none" stroke="#f0201c" stroke-width="1.2" stroke-dasharray="2.6 1.5"/>
<ellipse cx="364.8" cy="492.1" rx="42.4" ry="39.8" fill="#c6f5f6"/>
<circle cx="387.26" cy="471.55" r="1.05" fill="#1fb6d6"/>
<circle cx="387.96" cy="474.25" r="1.05" fill="#1fb6d6"/>
<circle cx="384.8" cy="465.84" r="2.35" fill="url(#g_mag)"/>
<circle cx="391.67" cy="485.67" r="1.05" fill="#1fb6d6"/>
<circle cx="392.37" cy="488.37" r="1.05" fill="#1fb6d6"/>
<circle cx="389.22" cy="479.96" r="2.35" fill="url(#g_mag)"/>
<circle cx="396.08" cy="499.79" r="1.05" fill="#1fb6d6"/>
<circle cx="396.78" cy="502.49" r="1.05" fill="#1fb6d6"/>
<circle cx="393.63" cy="494.08" r="2.35" fill="url(#g_mag)"/>
<circle cx="398.04" cy="508.2" r="2.35" fill="url(#g_mag)"/>
<circle cx="376.18" cy="467.24" r="1.05" fill="#1fb6d6"/>
<circle cx="376.88" cy="469.94" r="1.05" fill="#1fb6d6"/>
<circle cx="373.73" cy="461.53" r="2.35" fill="url(#g_mag)"/>
<circle cx="380.59" cy="481.36" r="1.05" fill="#1fb6d6"/>
<circle cx="381.29" cy="484.06" r="1.05" fill="#1fb6d6"/>
<circle cx="378.14" cy="475.65" r="1.6" fill="url(#g_yel)"/>
<circle cx="385" cy="495.47" r="1.05" fill="#1fb6d6"/>
<circle cx="385.7" cy="498.17" r="1.05" fill="#1fb6d6"/>
<circle cx="382.55" cy="489.76" r="2.35" fill="url(#g_mag)"/>
<circle cx="389.42" cy="509.59" r="1.05" fill="#1fb6d6"/>
<circle cx="390.12" cy="512.29" r="1.05" fill="#1fb6d6"/>
<circle cx="386.96" cy="503.88" r="2.35" fill="url(#g_mag)"/>
<circle cx="365.1" cy="462.92" r="1.05" fill="#1fb6d6"/>
<circle cx="365.8" cy="465.62" r="1.05" fill="#1fb6d6"/>
<circle cx="362.65" cy="457.22" r="2.35" fill="url(#g_mag)"/>
<circle cx="369.51" cy="477.04" r="1.05" fill="#1fb6d6"/>
<circle cx="370.21" cy="479.74" r="1.05" fill="#1fb6d6"/>
<circle cx="367.06" cy="471.33" r="2.35" fill="url(#g_mag)"/>
<circle cx="373.93" cy="491.16" r="1.05" fill="#1fb6d6"/>
<circle cx="374.63" cy="493.86" r="1.05" fill="#1fb6d6"/>
<circle cx="371.47" cy="485.45" r="2.35" fill="url(#g_mag)"/>
<circle cx="378.34" cy="505.28" r="1.05" fill="#1fb6d6"/>
<circle cx="379.04" cy="507.98" r="1.05" fill="#1fb6d6"/>
<circle cx="375.88" cy="499.57" r="2.1" fill="url(#g_mag)"/>
<circle cx="375.88" cy="499.57" r="1.35" fill="url(#g_yel)"/>
<circle cx="382.75" cy="519.4" r="1.05" fill="#1fb6d6"/>
<circle cx="383.45" cy="522.1" r="1.05" fill="#1fb6d6"/>
<circle cx="380.29" cy="513.69" r="2.35" fill="url(#g_mag)"/>
<circle cx="354.02" cy="458.61" r="1.05" fill="#1fb6d6"/>
<circle cx="354.72" cy="461.31" r="1.05" fill="#1fb6d6"/>
<circle cx="358.44" cy="472.73" r="1.05" fill="#1fb6d6"/>
<circle cx="359.14" cy="475.43" r="1.05" fill="#1fb6d6"/>
<circle cx="355.98" cy="467.02" r="2.35" fill="url(#g_mag)"/>
<circle cx="362.85" cy="486.85" r="1.05" fill="#1fb6d6"/>
<circle cx="363.55" cy="489.55" r="1.05" fill="#1fb6d6"/>
<circle cx="360.39" cy="481.14" r="2.1" fill="url(#g_mag)"/>
<circle cx="360.39" cy="481.14" r="1.35" fill="url(#g_yel)"/>
<circle cx="367.26" cy="500.96" r="1.05" fill="#1fb6d6"/>
<circle cx="367.96" cy="503.66" r="1.05" fill="#1fb6d6"/>
<circle cx="364.8" cy="495.25" r="2.35" fill="url(#g_mag)"/>
<circle cx="371.67" cy="515.08" r="1.05" fill="#1fb6d6"/>
<circle cx="372.37" cy="517.78" r="1.05" fill="#1fb6d6"/>
<circle cx="369.22" cy="509.37" r="2.35" fill="url(#g_mag)"/>
<circle cx="373.63" cy="523.49" r="1.6" fill="url(#g_yel)"/>
<circle cx="347.36" cy="468.41" r="1.05" fill="#1fb6d6"/>
<circle cx="348.06" cy="471.11" r="1.05" fill="#1fb6d6"/>
<circle cx="344.9" cy="462.71" r="1.6" fill="url(#g_yel)"/>
<circle cx="351.77" cy="482.53" r="1.05" fill="#1fb6d6"/>
<circle cx="352.47" cy="485.23" r="1.05" fill="#1fb6d6"/>
<circle cx="349.31" cy="476.82" r="2.35" fill="url(#g_mag)"/>
<circle cx="356.18" cy="496.65" r="1.05" fill="#1fb6d6"/>
<circle cx="356.88" cy="499.35" r="1.05" fill="#1fb6d6"/>
<circle cx="353.73" cy="490.94" r="2.35" fill="url(#g_mag)"/>
<circle cx="360.59" cy="510.77" r="1.05" fill="#1fb6d6"/>
<circle cx="361.29" cy="513.47" r="1.05" fill="#1fb6d6"/>
<circle cx="358.14" cy="505.06" r="2.35" fill="url(#g_mag)"/>
<circle cx="365" cy="524.89" r="1.05" fill="#1fb6d6"/>
<circle cx="365.7" cy="527.59" r="1.05" fill="#1fb6d6"/>
<circle cx="362.55" cy="519.18" r="2.35" fill="url(#g_mag)"/>
<circle cx="340.69" cy="478.22" r="1.05" fill="#1fb6d6"/>
<circle cx="341.39" cy="480.92" r="1.05" fill="#1fb6d6"/>
<circle cx="338.24" cy="472.51" r="2.35" fill="url(#g_mag)"/>
<circle cx="345.1" cy="492.34" r="1.05" fill="#1fb6d6"/>
<circle cx="345.8" cy="495.04" r="1.05" fill="#1fb6d6"/>
<circle cx="342.65" cy="486.63" r="2.35" fill="url(#g_mag)"/>
<circle cx="349.51" cy="506.45" r="1.05" fill="#1fb6d6"/>
<circle cx="350.21" cy="509.15" r="1.05" fill="#1fb6d6"/>
<circle cx="347.06" cy="500.75" r="2.1" fill="url(#g_mag)"/>
<circle cx="347.06" cy="500.75" r="1.35" fill="url(#g_yel)"/>
<circle cx="353.93" cy="520.57" r="1.05" fill="#1fb6d6"/>
<circle cx="354.63" cy="523.27" r="1.05" fill="#1fb6d6"/>
<circle cx="351.47" cy="514.86" r="1.6" fill="url(#g_yel)"/>
<circle cx="334.02" cy="488.02" r="1.05" fill="#1fb6d6"/>
<circle cx="334.72" cy="490.72" r="1.05" fill="#1fb6d6"/>
<circle cx="331.57" cy="482.31" r="1.6" fill="url(#g_yel)"/>
<circle cx="338.44" cy="502.14" r="1.05" fill="#1fb6d6"/>
<circle cx="339.14" cy="504.84" r="1.05" fill="#1fb6d6"/>
<circle cx="335.98" cy="496.43" r="2.35" fill="url(#g_mag)"/>
<circle cx="342.85" cy="516.26" r="1.05" fill="#1fb6d6"/>
<circle cx="343.55" cy="518.96" r="1.05" fill="#1fb6d6"/>
<circle cx="340.39" cy="510.55" r="1.6" fill="url(#g_yel)"/>
<ellipse cx="364.8" cy="492.1" rx="42.4" ry="39.8" fill="none" stroke="#f0201c" stroke-width="1.2" stroke-dasharray="2.6 1.5"/>
<circle cx="105" cy="539.4" r="3.3" fill="#8cc63f" stroke="#e0402a" stroke-width="0.7" stroke-dasharray="1.2 0.9"/>
<text x="115" y="542.2" font-size="7.6" font-weight="normal" text-anchor="start" fill="#0a0a0a">Ti<tspan dy="0.34em" font-size="65%">v</tspan><tspan dy="-0.22em" font-size="100%">&#8203;</tspan></text>
<circle cx="174" cy="539.4" r="3" fill="url(#g_yel)"/>
<text x="183.2" y="542.2" font-size="7.6" font-weight="normal" text-anchor="start" fill="#0a0a0a">Cu atom</text>
<circle cx="248.4" cy="539.4" r="4.4" fill="url(#g_mag)"/>
<text x="262.2" y="542.2" font-size="7.6" font-weight="normal" text-anchor="start" fill="#0a0a0a">Ti atom</text>
<circle cx="319.4" cy="539.4" r="2.4" fill="url(#g_cy)"/>
<text x="331" y="542.2" font-size="7.6" font-weight="normal" text-anchor="start" fill="#0a0a0a">O atom</text>
<circle cx="381.6" cy="539.4" r="2.9" fill="url(#g_blk)"/>
<text x="394.2" y="542.2" font-size="7.6" font-weight="normal" text-anchor="start" fill="#0a0a0a">C atom</text>
</svg>
</body>
</html>
